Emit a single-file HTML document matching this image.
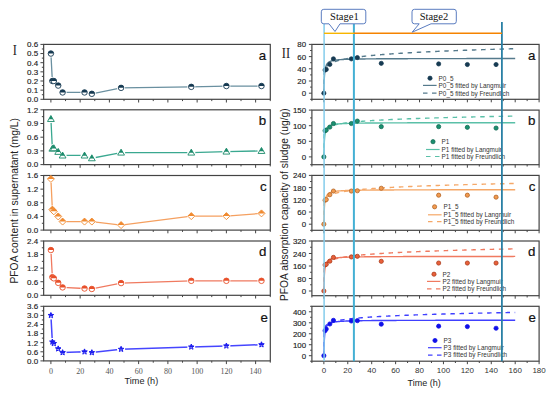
<!DOCTYPE html>
<html><head><meta charset="utf-8"><style>html,body{margin:0;padding:0;background:#fff;}svg{display:block;}</style></head>
<body><svg width="550" height="393" viewBox="0 0 550 393">
<rect width="550" height="393" fill="#fff"/>
<rect x="43.65" y="44.4" width="226.65" height="54.90" fill="none" stroke="#444444" stroke-width="1.2"/>
<line x1="40.449999999999996" y1="99.30" x2="43.65" y2="99.30" stroke="#444444" stroke-width="1"/>
<text x="38.15" y="102.10" text-anchor="end" font-size="8" fill="#222222" stroke="#222222" stroke-width="0.15" font-family='"Liberation Sans", sans-serif'>0.0</text>
<line x1="41.85" y1="94.72" x2="43.65" y2="94.72" stroke="#444444" stroke-width="1"/>
<line x1="40.449999999999996" y1="90.15" x2="43.65" y2="90.15" stroke="#444444" stroke-width="1"/>
<text x="38.15" y="92.95" text-anchor="end" font-size="8" fill="#222222" stroke="#222222" stroke-width="0.15" font-family='"Liberation Sans", sans-serif'>0.1</text>
<line x1="41.85" y1="85.57" x2="43.65" y2="85.57" stroke="#444444" stroke-width="1"/>
<line x1="40.449999999999996" y1="81.00" x2="43.65" y2="81.00" stroke="#444444" stroke-width="1"/>
<text x="38.15" y="83.80" text-anchor="end" font-size="8" fill="#222222" stroke="#222222" stroke-width="0.15" font-family='"Liberation Sans", sans-serif'>0.2</text>
<line x1="41.85" y1="76.42" x2="43.65" y2="76.42" stroke="#444444" stroke-width="1"/>
<line x1="40.449999999999996" y1="71.85" x2="43.65" y2="71.85" stroke="#444444" stroke-width="1"/>
<text x="38.15" y="74.65" text-anchor="end" font-size="8" fill="#222222" stroke="#222222" stroke-width="0.15" font-family='"Liberation Sans", sans-serif'>0.3</text>
<line x1="41.85" y1="67.28" x2="43.65" y2="67.28" stroke="#444444" stroke-width="1"/>
<line x1="40.449999999999996" y1="62.70" x2="43.65" y2="62.70" stroke="#444444" stroke-width="1"/>
<text x="38.15" y="65.50" text-anchor="end" font-size="8" fill="#222222" stroke="#222222" stroke-width="0.15" font-family='"Liberation Sans", sans-serif'>0.4</text>
<line x1="41.85" y1="58.12" x2="43.65" y2="58.12" stroke="#444444" stroke-width="1"/>
<line x1="40.449999999999996" y1="53.55" x2="43.65" y2="53.55" stroke="#444444" stroke-width="1"/>
<text x="38.15" y="56.35" text-anchor="end" font-size="8" fill="#222222" stroke="#222222" stroke-width="0.15" font-family='"Liberation Sans", sans-serif'>0.5</text>
<line x1="41.85" y1="48.97" x2="43.65" y2="48.97" stroke="#444444" stroke-width="1"/>
<line x1="40.449999999999996" y1="44.40" x2="43.65" y2="44.40" stroke="#444444" stroke-width="1"/>
<text x="38.15" y="47.20" text-anchor="end" font-size="8" fill="#222222" stroke="#222222" stroke-width="0.15" font-family='"Liberation Sans", sans-serif'>0.6</text>
<line x1="50.90" y1="99.3" x2="50.90" y2="102.5" stroke="#444444" stroke-width="1"/>
<line x1="65.52" y1="99.3" x2="65.52" y2="101.1" stroke="#444444" stroke-width="1"/>
<line x1="80.15" y1="99.3" x2="80.15" y2="102.5" stroke="#444444" stroke-width="1"/>
<line x1="94.77" y1="99.3" x2="94.77" y2="101.1" stroke="#444444" stroke-width="1"/>
<line x1="109.39" y1="99.3" x2="109.39" y2="102.5" stroke="#444444" stroke-width="1"/>
<line x1="124.01" y1="99.3" x2="124.01" y2="101.1" stroke="#444444" stroke-width="1"/>
<line x1="138.64" y1="99.3" x2="138.64" y2="102.5" stroke="#444444" stroke-width="1"/>
<line x1="153.26" y1="99.3" x2="153.26" y2="101.1" stroke="#444444" stroke-width="1"/>
<line x1="167.88" y1="99.3" x2="167.88" y2="102.5" stroke="#444444" stroke-width="1"/>
<line x1="182.51" y1="99.3" x2="182.51" y2="101.1" stroke="#444444" stroke-width="1"/>
<line x1="197.13" y1="99.3" x2="197.13" y2="102.5" stroke="#444444" stroke-width="1"/>
<line x1="211.75" y1="99.3" x2="211.75" y2="101.1" stroke="#444444" stroke-width="1"/>
<line x1="226.38" y1="99.3" x2="226.38" y2="102.5" stroke="#444444" stroke-width="1"/>
<line x1="241.00" y1="99.3" x2="241.00" y2="101.1" stroke="#444444" stroke-width="1"/>
<line x1="255.62" y1="99.3" x2="255.62" y2="102.5" stroke="#444444" stroke-width="1"/>
<line x1="270.25" y1="99.3" x2="270.25" y2="101.1" stroke="#444444" stroke-width="1"/>
<text x="262.5" y="59.70" text-anchor="middle" font-size="13.3" fill="#111" stroke="#111" stroke-width="0.2" font-family='"Liberation Sans", sans-serif'>a</text>
<polyline points="50.90,53.55 52.36,81.00 53.82,81.00 58.21,85.58 62.60,92.44 84.53,92.44 91.84,93.81 121.09,87.86 191.28,86.86 226.38,86.03 261.47,86.03" fill="none" stroke="#6a90a0" stroke-width="1.3"/>
<clipPath id="pc0"><rect x="44.25" y="45.0" width="225.45" height="53.70"/></clipPath><g clip-path="url(#pc0)">
<circle cx="50.90" cy="53.55" r="4.0" fill="#fff"/>
<circle cx="52.36" cy="81.00" r="4.0" fill="#fff"/>
<circle cx="53.82" cy="81.00" r="4.0" fill="#fff"/>
<circle cx="58.21" cy="85.58" r="4.0" fill="#fff"/>
<circle cx="62.60" cy="92.44" r="4.0" fill="#fff"/>
<circle cx="84.53" cy="92.44" r="4.0" fill="#fff"/>
<circle cx="91.84" cy="93.81" r="4.0" fill="#fff"/>
<circle cx="121.09" cy="87.86" r="4.0" fill="#fff"/>
<circle cx="191.28" cy="86.86" r="4.0" fill="#fff"/>
<circle cx="226.38" cy="86.03" r="4.0" fill="#fff"/>
<circle cx="261.47" cy="86.03" r="4.0" fill="#fff"/>
</g>
<circle cx="50.90" cy="53.55" r="2.75" fill="#fff" stroke="#163a52" stroke-width="0.9"/>
<path d="M48.15,53.55 A2.75,2.75 0 0 1 53.65,53.55 Z" fill="#163a52"/>
<circle cx="52.36" cy="81.00" r="2.75" fill="#fff" stroke="#163a52" stroke-width="0.9"/>
<path d="M49.61,81.00 A2.75,2.75 0 0 1 55.11,81.00 Z" fill="#163a52"/>
<circle cx="53.82" cy="81.00" r="2.75" fill="#fff" stroke="#163a52" stroke-width="0.9"/>
<path d="M51.07,81.00 A2.75,2.75 0 0 1 56.57,81.00 Z" fill="#163a52"/>
<circle cx="58.21" cy="85.58" r="2.75" fill="#fff" stroke="#163a52" stroke-width="0.9"/>
<path d="M55.46,85.58 A2.75,2.75 0 0 1 60.96,85.58 Z" fill="#163a52"/>
<circle cx="62.60" cy="92.44" r="2.75" fill="#fff" stroke="#163a52" stroke-width="0.9"/>
<path d="M59.85,92.44 A2.75,2.75 0 0 1 65.35,92.44 Z" fill="#163a52"/>
<circle cx="84.53" cy="92.44" r="2.75" fill="#fff" stroke="#163a52" stroke-width="0.9"/>
<path d="M81.78,92.44 A2.75,2.75 0 0 1 87.28,92.44 Z" fill="#163a52"/>
<circle cx="91.84" cy="93.81" r="2.75" fill="#fff" stroke="#163a52" stroke-width="0.9"/>
<path d="M89.09,93.81 A2.75,2.75 0 0 1 94.59,93.81 Z" fill="#163a52"/>
<circle cx="121.09" cy="87.86" r="2.75" fill="#fff" stroke="#163a52" stroke-width="0.9"/>
<path d="M118.34,87.86 A2.75,2.75 0 0 1 123.84,87.86 Z" fill="#163a52"/>
<circle cx="191.28" cy="86.86" r="2.75" fill="#fff" stroke="#163a52" stroke-width="0.9"/>
<path d="M188.53,86.86 A2.75,2.75 0 0 1 194.03,86.86 Z" fill="#163a52"/>
<circle cx="226.38" cy="86.03" r="2.75" fill="#fff" stroke="#163a52" stroke-width="0.9"/>
<path d="M223.63,86.03 A2.75,2.75 0 0 1 229.13,86.03 Z" fill="#163a52"/>
<circle cx="261.47" cy="86.03" r="2.75" fill="#fff" stroke="#163a52" stroke-width="0.9"/>
<path d="M258.72,86.03 A2.75,2.75 0 0 1 264.22,86.03 Z" fill="#163a52"/>
<rect x="43.65" y="109.8" width="226.65" height="54.80" fill="none" stroke="#444444" stroke-width="1.2"/>
<line x1="40.449999999999996" y1="164.60" x2="43.65" y2="164.60" stroke="#444444" stroke-width="1"/>
<text x="38.15" y="167.40" text-anchor="end" font-size="8" fill="#222222" stroke="#222222" stroke-width="0.15" font-family='"Liberation Sans", sans-serif'>0.0</text>
<line x1="41.85" y1="157.75" x2="43.65" y2="157.75" stroke="#444444" stroke-width="1"/>
<line x1="40.449999999999996" y1="150.90" x2="43.65" y2="150.90" stroke="#444444" stroke-width="1"/>
<text x="38.15" y="153.70" text-anchor="end" font-size="8" fill="#222222" stroke="#222222" stroke-width="0.15" font-family='"Liberation Sans", sans-serif'>0.3</text>
<line x1="41.85" y1="144.05" x2="43.65" y2="144.05" stroke="#444444" stroke-width="1"/>
<line x1="40.449999999999996" y1="137.20" x2="43.65" y2="137.20" stroke="#444444" stroke-width="1"/>
<text x="38.15" y="140.00" text-anchor="end" font-size="8" fill="#222222" stroke="#222222" stroke-width="0.15" font-family='"Liberation Sans", sans-serif'>0.6</text>
<line x1="41.85" y1="130.35" x2="43.65" y2="130.35" stroke="#444444" stroke-width="1"/>
<line x1="40.449999999999996" y1="123.50" x2="43.65" y2="123.50" stroke="#444444" stroke-width="1"/>
<text x="38.15" y="126.30" text-anchor="end" font-size="8" fill="#222222" stroke="#222222" stroke-width="0.15" font-family='"Liberation Sans", sans-serif'>0.9</text>
<line x1="41.85" y1="116.65" x2="43.65" y2="116.65" stroke="#444444" stroke-width="1"/>
<line x1="40.449999999999996" y1="109.80" x2="43.65" y2="109.80" stroke="#444444" stroke-width="1"/>
<text x="38.15" y="112.60" text-anchor="end" font-size="8" fill="#222222" stroke="#222222" stroke-width="0.15" font-family='"Liberation Sans", sans-serif'>1.2</text>
<line x1="50.90" y1="164.6" x2="50.90" y2="167.79999999999998" stroke="#444444" stroke-width="1"/>
<line x1="65.52" y1="164.6" x2="65.52" y2="166.4" stroke="#444444" stroke-width="1"/>
<line x1="80.15" y1="164.6" x2="80.15" y2="167.79999999999998" stroke="#444444" stroke-width="1"/>
<line x1="94.77" y1="164.6" x2="94.77" y2="166.4" stroke="#444444" stroke-width="1"/>
<line x1="109.39" y1="164.6" x2="109.39" y2="167.79999999999998" stroke="#444444" stroke-width="1"/>
<line x1="124.01" y1="164.6" x2="124.01" y2="166.4" stroke="#444444" stroke-width="1"/>
<line x1="138.64" y1="164.6" x2="138.64" y2="167.79999999999998" stroke="#444444" stroke-width="1"/>
<line x1="153.26" y1="164.6" x2="153.26" y2="166.4" stroke="#444444" stroke-width="1"/>
<line x1="167.88" y1="164.6" x2="167.88" y2="167.79999999999998" stroke="#444444" stroke-width="1"/>
<line x1="182.51" y1="164.6" x2="182.51" y2="166.4" stroke="#444444" stroke-width="1"/>
<line x1="197.13" y1="164.6" x2="197.13" y2="167.79999999999998" stroke="#444444" stroke-width="1"/>
<line x1="211.75" y1="164.6" x2="211.75" y2="166.4" stroke="#444444" stroke-width="1"/>
<line x1="226.38" y1="164.6" x2="226.38" y2="167.79999999999998" stroke="#444444" stroke-width="1"/>
<line x1="241.00" y1="164.6" x2="241.00" y2="166.4" stroke="#444444" stroke-width="1"/>
<line x1="255.62" y1="164.6" x2="255.62" y2="167.79999999999998" stroke="#444444" stroke-width="1"/>
<line x1="270.25" y1="164.6" x2="270.25" y2="166.4" stroke="#444444" stroke-width="1"/>
<text x="262.5" y="125.10" text-anchor="middle" font-size="13.3" fill="#111" stroke="#111" stroke-width="0.2" font-family='"Liberation Sans", sans-serif'>b</text>
<polyline points="50.90,118.93 52.36,148.62 53.82,148.16 58.21,151.81 62.60,155.47 84.53,155.47 91.84,158.21 121.09,152.54 191.28,152.54 226.38,151.54 261.47,150.90" fill="none" stroke="#3aa890" stroke-width="1.3"/>
<clipPath id="pc1"><rect x="44.25" y="110.39999999999999" width="225.45" height="53.60"/></clipPath><g clip-path="url(#pc1)">
<circle cx="50.90" cy="118.93" r="4.0" fill="#fff"/>
<circle cx="52.36" cy="148.62" r="4.0" fill="#fff"/>
<circle cx="53.82" cy="148.16" r="4.0" fill="#fff"/>
<circle cx="58.21" cy="151.81" r="4.0" fill="#fff"/>
<circle cx="62.60" cy="155.47" r="4.0" fill="#fff"/>
<circle cx="84.53" cy="155.47" r="4.0" fill="#fff"/>
<circle cx="91.84" cy="158.21" r="4.0" fill="#fff"/>
<circle cx="121.09" cy="152.54" r="4.0" fill="#fff"/>
<circle cx="191.28" cy="152.54" r="4.0" fill="#fff"/>
<circle cx="226.38" cy="151.54" r="4.0" fill="#fff"/>
<circle cx="261.47" cy="150.90" r="4.0" fill="#fff"/>
</g>
<path d="M50.90,115.53 L54.30,121.48 L47.50,121.48 Z" fill="#fff" stroke="#1a8a6a" stroke-width="0.9"/>
<path d="M50.90,115.53 L53.01,119.23 L48.79,119.23 Z" fill="#1a8a6a"/>
<path d="M52.36,145.22 L55.76,151.17 L48.96,151.17 Z" fill="#fff" stroke="#1a8a6a" stroke-width="0.9"/>
<path d="M52.36,145.22 L54.47,148.92 L50.25,148.92 Z" fill="#1a8a6a"/>
<path d="M53.82,144.76 L57.22,150.71 L50.42,150.71 Z" fill="#fff" stroke="#1a8a6a" stroke-width="0.9"/>
<path d="M53.82,144.76 L55.93,148.46 L51.72,148.46 Z" fill="#1a8a6a"/>
<path d="M58.21,148.41 L61.61,154.36 L54.81,154.36 Z" fill="#fff" stroke="#1a8a6a" stroke-width="0.9"/>
<path d="M58.21,148.41 L60.32,152.11 L56.10,152.11 Z" fill="#1a8a6a"/>
<path d="M62.60,152.07 L66.00,158.02 L59.20,158.02 Z" fill="#fff" stroke="#1a8a6a" stroke-width="0.9"/>
<path d="M62.60,152.07 L64.71,155.77 L60.49,155.77 Z" fill="#1a8a6a"/>
<path d="M84.53,152.07 L87.93,158.02 L81.13,158.02 Z" fill="#fff" stroke="#1a8a6a" stroke-width="0.9"/>
<path d="M84.53,152.07 L86.64,155.77 L82.42,155.77 Z" fill="#1a8a6a"/>
<path d="M91.84,154.81 L95.24,160.76 L88.44,160.76 Z" fill="#fff" stroke="#1a8a6a" stroke-width="0.9"/>
<path d="M91.84,154.81 L93.95,158.51 L89.74,158.51 Z" fill="#1a8a6a"/>
<path d="M121.09,149.14 L124.49,155.09 L117.69,155.09 Z" fill="#fff" stroke="#1a8a6a" stroke-width="0.9"/>
<path d="M121.09,149.14 L123.20,152.84 L118.98,152.84 Z" fill="#1a8a6a"/>
<path d="M191.28,149.14 L194.68,155.09 L187.88,155.09 Z" fill="#fff" stroke="#1a8a6a" stroke-width="0.9"/>
<path d="M191.28,149.14 L193.39,152.84 L189.17,152.84 Z" fill="#1a8a6a"/>
<path d="M226.38,148.14 L229.78,154.09 L222.98,154.09 Z" fill="#fff" stroke="#1a8a6a" stroke-width="0.9"/>
<path d="M226.38,148.14 L228.48,151.84 L224.27,151.84 Z" fill="#1a8a6a"/>
<path d="M261.47,147.50 L264.87,153.45 L258.07,153.45 Z" fill="#fff" stroke="#1a8a6a" stroke-width="0.9"/>
<path d="M261.47,147.50 L263.58,151.20 L259.36,151.20 Z" fill="#1a8a6a"/>
<rect x="43.65" y="175.5" width="226.65" height="54.60" fill="none" stroke="#444444" stroke-width="1.2"/>
<line x1="40.449999999999996" y1="230.10" x2="43.65" y2="230.10" stroke="#444444" stroke-width="1"/>
<text x="38.15" y="232.90" text-anchor="end" font-size="8" fill="#222222" stroke="#222222" stroke-width="0.15" font-family='"Liberation Sans", sans-serif'>0.0</text>
<line x1="41.85" y1="223.28" x2="43.65" y2="223.28" stroke="#444444" stroke-width="1"/>
<line x1="40.449999999999996" y1="216.45" x2="43.65" y2="216.45" stroke="#444444" stroke-width="1"/>
<text x="38.15" y="219.25" text-anchor="end" font-size="8" fill="#222222" stroke="#222222" stroke-width="0.15" font-family='"Liberation Sans", sans-serif'>0.4</text>
<line x1="41.85" y1="209.62" x2="43.65" y2="209.62" stroke="#444444" stroke-width="1"/>
<line x1="40.449999999999996" y1="202.80" x2="43.65" y2="202.80" stroke="#444444" stroke-width="1"/>
<text x="38.15" y="205.60" text-anchor="end" font-size="8" fill="#222222" stroke="#222222" stroke-width="0.15" font-family='"Liberation Sans", sans-serif'>0.8</text>
<line x1="41.85" y1="195.97" x2="43.65" y2="195.97" stroke="#444444" stroke-width="1"/>
<line x1="40.449999999999996" y1="189.15" x2="43.65" y2="189.15" stroke="#444444" stroke-width="1"/>
<text x="38.15" y="191.95" text-anchor="end" font-size="8" fill="#222222" stroke="#222222" stroke-width="0.15" font-family='"Liberation Sans", sans-serif'>1.2</text>
<line x1="41.85" y1="182.32" x2="43.65" y2="182.32" stroke="#444444" stroke-width="1"/>
<line x1="40.449999999999996" y1="175.50" x2="43.65" y2="175.50" stroke="#444444" stroke-width="1"/>
<text x="38.15" y="178.30" text-anchor="end" font-size="8" fill="#222222" stroke="#222222" stroke-width="0.15" font-family='"Liberation Sans", sans-serif'>1.6</text>
<line x1="50.90" y1="230.1" x2="50.90" y2="233.29999999999998" stroke="#444444" stroke-width="1"/>
<line x1="65.52" y1="230.1" x2="65.52" y2="231.9" stroke="#444444" stroke-width="1"/>
<line x1="80.15" y1="230.1" x2="80.15" y2="233.29999999999998" stroke="#444444" stroke-width="1"/>
<line x1="94.77" y1="230.1" x2="94.77" y2="231.9" stroke="#444444" stroke-width="1"/>
<line x1="109.39" y1="230.1" x2="109.39" y2="233.29999999999998" stroke="#444444" stroke-width="1"/>
<line x1="124.01" y1="230.1" x2="124.01" y2="231.9" stroke="#444444" stroke-width="1"/>
<line x1="138.64" y1="230.1" x2="138.64" y2="233.29999999999998" stroke="#444444" stroke-width="1"/>
<line x1="153.26" y1="230.1" x2="153.26" y2="231.9" stroke="#444444" stroke-width="1"/>
<line x1="167.88" y1="230.1" x2="167.88" y2="233.29999999999998" stroke="#444444" stroke-width="1"/>
<line x1="182.51" y1="230.1" x2="182.51" y2="231.9" stroke="#444444" stroke-width="1"/>
<line x1="197.13" y1="230.1" x2="197.13" y2="233.29999999999998" stroke="#444444" stroke-width="1"/>
<line x1="211.75" y1="230.1" x2="211.75" y2="231.9" stroke="#444444" stroke-width="1"/>
<line x1="226.38" y1="230.1" x2="226.38" y2="233.29999999999998" stroke="#444444" stroke-width="1"/>
<line x1="241.00" y1="230.1" x2="241.00" y2="231.9" stroke="#444444" stroke-width="1"/>
<line x1="255.62" y1="230.1" x2="255.62" y2="233.29999999999998" stroke="#444444" stroke-width="1"/>
<line x1="270.25" y1="230.1" x2="270.25" y2="231.9" stroke="#444444" stroke-width="1"/>
<text x="263.3" y="190.80" text-anchor="middle" font-size="13.3" fill="#111" stroke="#111" stroke-width="0.2" font-family='"Liberation Sans", sans-serif'>c</text>
<polyline points="50.90,178.91 52.36,209.62 53.82,211.33 58.21,216.45 62.60,221.57 84.53,221.57 91.84,221.57 121.09,225.08 191.28,216.11 226.38,216.11 261.47,213.38" fill="none" stroke="#f5a060" stroke-width="1.3"/>
<clipPath id="pc2"><rect x="44.25" y="176.1" width="225.45" height="53.40"/></clipPath><g clip-path="url(#pc2)">
<circle cx="50.90" cy="178.91" r="4.0" fill="#fff"/>
<circle cx="52.36" cy="209.62" r="4.0" fill="#fff"/>
<circle cx="53.82" cy="211.33" r="4.0" fill="#fff"/>
<circle cx="58.21" cy="216.45" r="4.0" fill="#fff"/>
<circle cx="62.60" cy="221.57" r="4.0" fill="#fff"/>
<circle cx="84.53" cy="221.57" r="4.0" fill="#fff"/>
<circle cx="91.84" cy="221.57" r="4.0" fill="#fff"/>
<circle cx="121.09" cy="225.08" r="4.0" fill="#fff"/>
<circle cx="191.28" cy="216.11" r="4.0" fill="#fff"/>
<circle cx="226.38" cy="216.11" r="4.0" fill="#fff"/>
<circle cx="261.47" cy="213.38" r="4.0" fill="#fff"/>
</g>
<path d="M50.90,175.41 L54.40,178.91 L50.90,182.41 L47.40,178.91 Z" fill="#fff" stroke="#f08a30" stroke-width="0.9"/>
<path d="M50.90,175.41 L54.40,178.91 L47.40,178.91 Z" fill="#f08a30"/>
<path d="M52.36,206.12 L55.86,209.62 L52.36,213.12 L48.86,209.62 Z" fill="#fff" stroke="#f08a30" stroke-width="0.9"/>
<path d="M52.36,206.12 L55.86,209.62 L48.86,209.62 Z" fill="#f08a30"/>
<path d="M53.82,207.83 L57.32,211.33 L53.82,214.83 L50.32,211.33 Z" fill="#fff" stroke="#f08a30" stroke-width="0.9"/>
<path d="M53.82,207.83 L57.32,211.33 L50.32,211.33 Z" fill="#f08a30"/>
<path d="M58.21,212.95 L61.71,216.45 L58.21,219.95 L54.71,216.45 Z" fill="#fff" stroke="#f08a30" stroke-width="0.9"/>
<path d="M58.21,212.95 L61.71,216.45 L54.71,216.45 Z" fill="#f08a30"/>
<path d="M62.60,218.07 L66.10,221.57 L62.60,225.07 L59.10,221.57 Z" fill="#fff" stroke="#f08a30" stroke-width="0.9"/>
<path d="M62.60,218.07 L66.10,221.57 L59.10,221.57 Z" fill="#f08a30"/>
<path d="M84.53,218.07 L88.03,221.57 L84.53,225.07 L81.03,221.57 Z" fill="#fff" stroke="#f08a30" stroke-width="0.9"/>
<path d="M84.53,218.07 L88.03,221.57 L81.03,221.57 Z" fill="#f08a30"/>
<path d="M91.84,218.07 L95.34,221.57 L91.84,225.07 L88.34,221.57 Z" fill="#fff" stroke="#f08a30" stroke-width="0.9"/>
<path d="M91.84,218.07 L95.34,221.57 L88.34,221.57 Z" fill="#f08a30"/>
<path d="M121.09,221.58 L124.59,225.08 L121.09,228.58 L117.59,225.08 Z" fill="#fff" stroke="#f08a30" stroke-width="0.9"/>
<path d="M121.09,221.58 L124.59,225.08 L117.59,225.08 Z" fill="#f08a30"/>
<path d="M191.28,212.61 L194.78,216.11 L191.28,219.61 L187.78,216.11 Z" fill="#fff" stroke="#f08a30" stroke-width="0.9"/>
<path d="M191.28,212.61 L194.78,216.11 L187.78,216.11 Z" fill="#f08a30"/>
<path d="M226.38,212.61 L229.88,216.11 L226.38,219.61 L222.88,216.11 Z" fill="#fff" stroke="#f08a30" stroke-width="0.9"/>
<path d="M226.38,212.61 L229.88,216.11 L222.88,216.11 Z" fill="#f08a30"/>
<path d="M261.47,209.88 L264.97,213.38 L261.47,216.88 L257.97,213.38 Z" fill="#fff" stroke="#f08a30" stroke-width="0.9"/>
<path d="M261.47,209.88 L264.97,213.38 L257.97,213.38 Z" fill="#f08a30"/>
<rect x="43.65" y="241.0" width="226.65" height="54.30" fill="none" stroke="#444444" stroke-width="1.2"/>
<line x1="40.449999999999996" y1="295.30" x2="43.65" y2="295.30" stroke="#444444" stroke-width="1"/>
<text x="38.15" y="298.10" text-anchor="end" font-size="8" fill="#222222" stroke="#222222" stroke-width="0.15" font-family='"Liberation Sans", sans-serif'>0.0</text>
<line x1="41.85" y1="288.51" x2="43.65" y2="288.51" stroke="#444444" stroke-width="1"/>
<line x1="40.449999999999996" y1="281.73" x2="43.65" y2="281.73" stroke="#444444" stroke-width="1"/>
<text x="38.15" y="284.53" text-anchor="end" font-size="8" fill="#222222" stroke="#222222" stroke-width="0.15" font-family='"Liberation Sans", sans-serif'>0.6</text>
<line x1="41.85" y1="274.94" x2="43.65" y2="274.94" stroke="#444444" stroke-width="1"/>
<line x1="40.449999999999996" y1="268.15" x2="43.65" y2="268.15" stroke="#444444" stroke-width="1"/>
<text x="38.15" y="270.95" text-anchor="end" font-size="8" fill="#222222" stroke="#222222" stroke-width="0.15" font-family='"Liberation Sans", sans-serif'>1.2</text>
<line x1="41.85" y1="261.36" x2="43.65" y2="261.36" stroke="#444444" stroke-width="1"/>
<line x1="40.449999999999996" y1="254.57" x2="43.65" y2="254.57" stroke="#444444" stroke-width="1"/>
<text x="38.15" y="257.38" text-anchor="end" font-size="8" fill="#222222" stroke="#222222" stroke-width="0.15" font-family='"Liberation Sans", sans-serif'>1.8</text>
<line x1="41.85" y1="247.79" x2="43.65" y2="247.79" stroke="#444444" stroke-width="1"/>
<line x1="40.449999999999996" y1="241.00" x2="43.65" y2="241.00" stroke="#444444" stroke-width="1"/>
<text x="38.15" y="243.80" text-anchor="end" font-size="8" fill="#222222" stroke="#222222" stroke-width="0.15" font-family='"Liberation Sans", sans-serif'>2.4</text>
<line x1="50.90" y1="295.3" x2="50.90" y2="298.5" stroke="#444444" stroke-width="1"/>
<line x1="65.52" y1="295.3" x2="65.52" y2="297.1" stroke="#444444" stroke-width="1"/>
<line x1="80.15" y1="295.3" x2="80.15" y2="298.5" stroke="#444444" stroke-width="1"/>
<line x1="94.77" y1="295.3" x2="94.77" y2="297.1" stroke="#444444" stroke-width="1"/>
<line x1="109.39" y1="295.3" x2="109.39" y2="298.5" stroke="#444444" stroke-width="1"/>
<line x1="124.01" y1="295.3" x2="124.01" y2="297.1" stroke="#444444" stroke-width="1"/>
<line x1="138.64" y1="295.3" x2="138.64" y2="298.5" stroke="#444444" stroke-width="1"/>
<line x1="153.26" y1="295.3" x2="153.26" y2="297.1" stroke="#444444" stroke-width="1"/>
<line x1="167.88" y1="295.3" x2="167.88" y2="298.5" stroke="#444444" stroke-width="1"/>
<line x1="182.51" y1="295.3" x2="182.51" y2="297.1" stroke="#444444" stroke-width="1"/>
<line x1="197.13" y1="295.3" x2="197.13" y2="298.5" stroke="#444444" stroke-width="1"/>
<line x1="211.75" y1="295.3" x2="211.75" y2="297.1" stroke="#444444" stroke-width="1"/>
<line x1="226.38" y1="295.3" x2="226.38" y2="298.5" stroke="#444444" stroke-width="1"/>
<line x1="241.00" y1="295.3" x2="241.00" y2="297.1" stroke="#444444" stroke-width="1"/>
<line x1="255.62" y1="295.3" x2="255.62" y2="298.5" stroke="#444444" stroke-width="1"/>
<line x1="270.25" y1="295.3" x2="270.25" y2="297.1" stroke="#444444" stroke-width="1"/>
<text x="262.8" y="256.30" text-anchor="middle" font-size="13.3" fill="#111" stroke="#111" stroke-width="0.2" font-family='"Liberation Sans", sans-serif'>d</text>
<polyline points="50.90,250.05 52.36,277.20 53.82,278.33 58.21,282.86 62.60,287.38 84.53,288.51 91.84,288.97 121.09,283.08 191.28,280.82 226.38,280.82 261.47,280.82" fill="none" stroke="#f07a60" stroke-width="1.3"/>
<clipPath id="pc3"><rect x="44.25" y="241.6" width="225.45" height="53.10"/></clipPath><g clip-path="url(#pc3)">
<circle cx="50.90" cy="250.05" r="4.0" fill="#fff"/>
<circle cx="52.36" cy="277.20" r="4.0" fill="#fff"/>
<circle cx="53.82" cy="278.33" r="4.0" fill="#fff"/>
<circle cx="58.21" cy="282.86" r="4.0" fill="#fff"/>
<circle cx="62.60" cy="287.38" r="4.0" fill="#fff"/>
<circle cx="84.53" cy="288.51" r="4.0" fill="#fff"/>
<circle cx="91.84" cy="288.97" r="4.0" fill="#fff"/>
<circle cx="121.09" cy="283.08" r="4.0" fill="#fff"/>
<circle cx="191.28" cy="280.82" r="4.0" fill="#fff"/>
<circle cx="226.38" cy="280.82" r="4.0" fill="#fff"/>
<circle cx="261.47" cy="280.82" r="4.0" fill="#fff"/>
</g>
<circle cx="50.90" cy="250.05" r="2.75" fill="#fff" stroke="#e8502a" stroke-width="0.9"/>
<path d="M48.15,250.05 A2.75,2.75 0 0 1 53.65,250.05 Z" fill="#e8502a"/>
<circle cx="52.36" cy="277.20" r="2.75" fill="#fff" stroke="#e8502a" stroke-width="0.9"/>
<path d="M49.61,277.20 A2.75,2.75 0 0 1 55.11,277.20 Z" fill="#e8502a"/>
<circle cx="53.82" cy="278.33" r="2.75" fill="#fff" stroke="#e8502a" stroke-width="0.9"/>
<path d="M51.07,278.33 A2.75,2.75 0 0 1 56.57,278.33 Z" fill="#e8502a"/>
<circle cx="58.21" cy="282.86" r="2.75" fill="#fff" stroke="#e8502a" stroke-width="0.9"/>
<path d="M55.46,282.86 A2.75,2.75 0 0 1 60.96,282.86 Z" fill="#e8502a"/>
<circle cx="62.60" cy="287.38" r="2.75" fill="#fff" stroke="#e8502a" stroke-width="0.9"/>
<path d="M59.85,287.38 A2.75,2.75 0 0 1 65.35,287.38 Z" fill="#e8502a"/>
<circle cx="84.53" cy="288.51" r="2.75" fill="#fff" stroke="#e8502a" stroke-width="0.9"/>
<path d="M81.78,288.51 A2.75,2.75 0 0 1 87.28,288.51 Z" fill="#e8502a"/>
<circle cx="91.84" cy="288.97" r="2.75" fill="#fff" stroke="#e8502a" stroke-width="0.9"/>
<path d="M89.09,288.97 A2.75,2.75 0 0 1 94.59,288.97 Z" fill="#e8502a"/>
<circle cx="121.09" cy="283.08" r="2.75" fill="#fff" stroke="#e8502a" stroke-width="0.9"/>
<path d="M118.34,283.08 A2.75,2.75 0 0 1 123.84,283.08 Z" fill="#e8502a"/>
<circle cx="191.28" cy="280.82" r="2.75" fill="#fff" stroke="#e8502a" stroke-width="0.9"/>
<path d="M188.53,280.82 A2.75,2.75 0 0 1 194.03,280.82 Z" fill="#e8502a"/>
<circle cx="226.38" cy="280.82" r="2.75" fill="#fff" stroke="#e8502a" stroke-width="0.9"/>
<path d="M223.63,280.82 A2.75,2.75 0 0 1 229.13,280.82 Z" fill="#e8502a"/>
<circle cx="261.47" cy="280.82" r="2.75" fill="#fff" stroke="#e8502a" stroke-width="0.9"/>
<path d="M258.72,280.82 A2.75,2.75 0 0 1 264.22,280.82 Z" fill="#e8502a"/>
<rect x="43.65" y="306.3" width="226.65" height="54.60" fill="none" stroke="#444444" stroke-width="1.2"/>
<line x1="40.449999999999996" y1="360.90" x2="43.65" y2="360.90" stroke="#444444" stroke-width="1"/>
<text x="38.15" y="363.70" text-anchor="end" font-size="8" fill="#222222" stroke="#222222" stroke-width="0.15" font-family='"Liberation Sans", sans-serif'>0.0</text>
<line x1="41.85" y1="356.35" x2="43.65" y2="356.35" stroke="#444444" stroke-width="1"/>
<line x1="40.449999999999996" y1="351.80" x2="43.65" y2="351.80" stroke="#444444" stroke-width="1"/>
<text x="38.15" y="354.60" text-anchor="end" font-size="8" fill="#222222" stroke="#222222" stroke-width="0.15" font-family='"Liberation Sans", sans-serif'>0.6</text>
<line x1="41.85" y1="347.25" x2="43.65" y2="347.25" stroke="#444444" stroke-width="1"/>
<line x1="40.449999999999996" y1="342.70" x2="43.65" y2="342.70" stroke="#444444" stroke-width="1"/>
<text x="38.15" y="345.50" text-anchor="end" font-size="8" fill="#222222" stroke="#222222" stroke-width="0.15" font-family='"Liberation Sans", sans-serif'>1.2</text>
<line x1="41.85" y1="338.15" x2="43.65" y2="338.15" stroke="#444444" stroke-width="1"/>
<line x1="40.449999999999996" y1="333.60" x2="43.65" y2="333.60" stroke="#444444" stroke-width="1"/>
<text x="38.15" y="336.40" text-anchor="end" font-size="8" fill="#222222" stroke="#222222" stroke-width="0.15" font-family='"Liberation Sans", sans-serif'>1.8</text>
<line x1="41.85" y1="329.05" x2="43.65" y2="329.05" stroke="#444444" stroke-width="1"/>
<line x1="40.449999999999996" y1="324.50" x2="43.65" y2="324.50" stroke="#444444" stroke-width="1"/>
<text x="38.15" y="327.30" text-anchor="end" font-size="8" fill="#222222" stroke="#222222" stroke-width="0.15" font-family='"Liberation Sans", sans-serif'>2.4</text>
<line x1="41.85" y1="319.95" x2="43.65" y2="319.95" stroke="#444444" stroke-width="1"/>
<line x1="40.449999999999996" y1="315.40" x2="43.65" y2="315.40" stroke="#444444" stroke-width="1"/>
<text x="38.15" y="318.20" text-anchor="end" font-size="8" fill="#222222" stroke="#222222" stroke-width="0.15" font-family='"Liberation Sans", sans-serif'>3.0</text>
<line x1="41.85" y1="310.85" x2="43.65" y2="310.85" stroke="#444444" stroke-width="1"/>
<line x1="40.449999999999996" y1="306.30" x2="43.65" y2="306.30" stroke="#444444" stroke-width="1"/>
<text x="38.15" y="309.10" text-anchor="end" font-size="8" fill="#222222" stroke="#222222" stroke-width="0.15" font-family='"Liberation Sans", sans-serif'>3.6</text>
<line x1="50.90" y1="360.9" x2="50.90" y2="364.09999999999997" stroke="#444444" stroke-width="1"/>
<line x1="65.52" y1="360.9" x2="65.52" y2="362.7" stroke="#444444" stroke-width="1"/>
<line x1="80.15" y1="360.9" x2="80.15" y2="364.09999999999997" stroke="#444444" stroke-width="1"/>
<line x1="94.77" y1="360.9" x2="94.77" y2="362.7" stroke="#444444" stroke-width="1"/>
<line x1="109.39" y1="360.9" x2="109.39" y2="364.09999999999997" stroke="#444444" stroke-width="1"/>
<line x1="124.01" y1="360.9" x2="124.01" y2="362.7" stroke="#444444" stroke-width="1"/>
<line x1="138.64" y1="360.9" x2="138.64" y2="364.09999999999997" stroke="#444444" stroke-width="1"/>
<line x1="153.26" y1="360.9" x2="153.26" y2="362.7" stroke="#444444" stroke-width="1"/>
<line x1="167.88" y1="360.9" x2="167.88" y2="364.09999999999997" stroke="#444444" stroke-width="1"/>
<line x1="182.51" y1="360.9" x2="182.51" y2="362.7" stroke="#444444" stroke-width="1"/>
<line x1="197.13" y1="360.9" x2="197.13" y2="364.09999999999997" stroke="#444444" stroke-width="1"/>
<line x1="211.75" y1="360.9" x2="211.75" y2="362.7" stroke="#444444" stroke-width="1"/>
<line x1="226.38" y1="360.9" x2="226.38" y2="364.09999999999997" stroke="#444444" stroke-width="1"/>
<line x1="241.00" y1="360.9" x2="241.00" y2="362.7" stroke="#444444" stroke-width="1"/>
<line x1="255.62" y1="360.9" x2="255.62" y2="364.09999999999997" stroke="#444444" stroke-width="1"/>
<line x1="270.25" y1="360.9" x2="270.25" y2="362.7" stroke="#444444" stroke-width="1"/>
<text x="264.1" y="321.60" text-anchor="middle" font-size="13.3" fill="#111" stroke="#111" stroke-width="0.2" font-family='"Liberation Sans", sans-serif'>e</text>
<polyline points="50.90,315.40 52.36,341.94 53.82,343.46 58.21,348.77 62.60,352.56 84.53,351.80 91.84,352.56 121.09,349.22 191.28,346.95 226.38,345.88 261.47,344.67" fill="none" stroke="#4646ff" stroke-width="1.5"/>
<clipPath id="pc4"><rect x="44.25" y="306.90000000000003" width="225.45" height="53.40"/></clipPath><g clip-path="url(#pc4)">
<circle cx="50.90" cy="315.40" r="4.0" fill="#fff"/>
<circle cx="52.36" cy="341.94" r="4.0" fill="#fff"/>
<circle cx="53.82" cy="343.46" r="4.0" fill="#fff"/>
<circle cx="58.21" cy="348.77" r="4.0" fill="#fff"/>
<circle cx="62.60" cy="352.56" r="4.0" fill="#fff"/>
<circle cx="84.53" cy="351.80" r="4.0" fill="#fff"/>
<circle cx="91.84" cy="352.56" r="4.0" fill="#fff"/>
<circle cx="121.09" cy="349.22" r="4.0" fill="#fff"/>
<circle cx="191.28" cy="346.95" r="4.0" fill="#fff"/>
<circle cx="226.38" cy="345.88" r="4.0" fill="#fff"/>
<circle cx="261.47" cy="344.67" r="4.0" fill="#fff"/>
</g>
<polygon points="50.90,312.50 51.66,314.35 53.66,314.50 52.14,315.80 52.60,317.75 50.90,316.70 49.20,317.75 49.66,315.80 48.14,314.50 50.14,314.35" fill="#fff" stroke="#1a1aee" stroke-width="1.0"/>
<clipPath id="sc0"><rect x="46.90" y="311.40" width="8" height="4.6"/></clipPath>
<polygon points="50.90,312.50 51.66,314.35 53.66,314.50 52.14,315.80 52.60,317.75 50.90,316.70 49.20,317.75 49.66,315.80 48.14,314.50 50.14,314.35" fill="#1a1aee" clip-path="url(#sc0)"/>
<polygon points="52.36,339.04 53.13,340.89 55.12,341.05 53.60,342.34 54.07,344.29 52.36,343.24 50.66,344.29 51.13,342.34 49.60,341.05 51.60,340.89" fill="#fff" stroke="#1a1aee" stroke-width="1.0"/>
<clipPath id="sc1"><rect x="48.36" y="337.94" width="8" height="4.6"/></clipPath>
<polygon points="52.36,339.04 53.13,340.89 55.12,341.05 53.60,342.34 54.07,344.29 52.36,343.24 50.66,344.29 51.13,342.34 49.60,341.05 51.60,340.89" fill="#1a1aee" clip-path="url(#sc1)"/>
<polygon points="53.82,340.56 54.59,342.41 56.58,342.56 55.06,343.86 55.53,345.80 53.82,344.76 52.12,345.80 52.59,343.86 51.07,342.56 53.06,342.41" fill="#fff" stroke="#1a1aee" stroke-width="1.0"/>
<clipPath id="sc2"><rect x="49.82" y="339.46" width="8" height="4.6"/></clipPath>
<polygon points="53.82,340.56 54.59,342.41 56.58,342.56 55.06,343.86 55.53,345.80 53.82,344.76 52.12,345.80 52.59,343.86 51.07,342.56 53.06,342.41" fill="#1a1aee" clip-path="url(#sc2)"/>
<polygon points="58.21,345.87 58.98,347.71 60.97,347.87 59.45,349.17 59.92,351.11 58.21,350.07 56.51,351.11 56.98,349.17 55.45,347.87 57.45,347.71" fill="#fff" stroke="#1a1aee" stroke-width="1.0"/>
<clipPath id="sc5"><rect x="54.21" y="344.77" width="8" height="4.6"/></clipPath>
<polygon points="58.21,345.87 58.98,347.71 60.97,347.87 59.45,349.17 59.92,351.11 58.21,350.07 56.51,351.11 56.98,349.17 55.45,347.87 57.45,347.71" fill="#1a1aee" clip-path="url(#sc5)"/>
<polygon points="62.60,349.66 63.36,351.51 65.36,351.66 63.83,352.96 64.30,354.90 62.60,353.86 60.89,354.90 61.36,352.96 59.84,351.66 61.83,351.51" fill="#fff" stroke="#1a1aee" stroke-width="1.0"/>
<clipPath id="sc8"><rect x="58.60" y="348.56" width="8" height="4.6"/></clipPath>
<polygon points="62.60,349.66 63.36,351.51 65.36,351.66 63.83,352.96 64.30,354.90 62.60,353.86 60.89,354.90 61.36,352.96 59.84,351.66 61.83,351.51" fill="#1a1aee" clip-path="url(#sc8)"/>
<polygon points="84.53,348.90 85.30,350.75 87.29,350.90 85.77,352.20 86.24,354.15 84.53,353.10 82.83,354.15 83.30,352.20 81.77,350.90 83.77,350.75" fill="#fff" stroke="#1a1aee" stroke-width="1.0"/>
<clipPath id="sc23"><rect x="80.53" y="347.80" width="8" height="4.6"/></clipPath>
<polygon points="84.53,348.90 85.30,350.75 87.29,350.90 85.77,352.20 86.24,354.15 84.53,353.10 82.83,354.15 83.30,352.20 81.77,350.90 83.77,350.75" fill="#1a1aee" clip-path="url(#sc23)"/>
<polygon points="91.84,349.66 92.61,351.51 94.60,351.66 93.08,352.96 93.55,354.90 91.84,353.86 90.14,354.90 90.61,352.96 89.09,351.66 91.08,351.51" fill="#fff" stroke="#1a1aee" stroke-width="1.0"/>
<clipPath id="sc28"><rect x="87.84" y="348.56" width="8" height="4.6"/></clipPath>
<polygon points="91.84,349.66 92.61,351.51 94.60,351.66 93.08,352.96 93.55,354.90 91.84,353.86 90.14,354.90 90.61,352.96 89.09,351.66 91.08,351.51" fill="#1a1aee" clip-path="url(#sc28)"/>
<polygon points="121.09,346.32 121.85,348.17 123.85,348.33 122.33,349.62 122.79,351.57 121.09,350.52 119.39,351.57 119.85,349.62 118.33,348.33 120.33,348.17" fill="#fff" stroke="#1a1aee" stroke-width="1.0"/>
<clipPath id="sc48"><rect x="117.09" y="345.22" width="8" height="4.6"/></clipPath>
<polygon points="121.09,346.32 121.85,348.17 123.85,348.33 122.33,349.62 122.79,351.57 121.09,350.52 119.39,351.57 119.85,349.62 118.33,348.33 120.33,348.17" fill="#1a1aee" clip-path="url(#sc48)"/>
<polygon points="191.28,344.05 192.04,345.89 194.04,346.05 192.52,347.35 192.99,349.29 191.28,348.25 189.58,349.29 190.04,347.35 188.52,346.05 190.52,345.89" fill="#fff" stroke="#1a1aee" stroke-width="1.0"/>
<clipPath id="sc96"><rect x="187.28" y="342.95" width="8" height="4.6"/></clipPath>
<polygon points="191.28,344.05 192.04,345.89 194.04,346.05 192.52,347.35 192.99,349.29 191.28,348.25 189.58,349.29 190.04,347.35 188.52,346.05 190.52,345.89" fill="#1a1aee" clip-path="url(#sc96)"/>
<polygon points="226.38,342.99 227.14,344.83 229.13,344.99 227.61,346.29 228.08,348.23 226.38,347.19 224.67,348.23 225.14,346.29 223.62,344.99 225.61,344.83" fill="#fff" stroke="#1a1aee" stroke-width="1.0"/>
<clipPath id="sc120"><rect x="222.38" y="341.88" width="8" height="4.6"/></clipPath>
<polygon points="226.38,342.99 227.14,344.83 229.13,344.99 227.61,346.29 228.08,348.23 226.38,347.19 224.67,348.23 225.14,346.29 223.62,344.99 225.61,344.83" fill="#1a1aee" clip-path="url(#sc120)"/>
<polygon points="261.47,341.77 262.24,343.62 264.23,343.78 262.71,345.07 263.18,347.02 261.47,345.97 259.77,347.02 260.23,345.07 258.71,343.78 260.71,343.62" fill="#fff" stroke="#1a1aee" stroke-width="1.0"/>
<clipPath id="sc144"><rect x="257.47" y="340.67" width="8" height="4.6"/></clipPath>
<polygon points="261.47,341.77 262.24,343.62 264.23,343.78 262.71,345.07 263.18,347.02 261.47,345.97 259.77,347.02 260.23,345.07 258.71,343.78 260.71,343.62" fill="#1a1aee" clip-path="url(#sc144)"/>
<text x="50.90" y="374.2" text-anchor="middle" font-size="8" fill="#555" font-family='"Liberation Serif", serif'>0</text>
<text x="80.15" y="374.2" text-anchor="middle" font-size="8" fill="#555" font-family='"Liberation Serif", serif'>20</text>
<text x="109.39" y="374.2" text-anchor="middle" font-size="8" fill="#555" font-family='"Liberation Serif", serif'>40</text>
<text x="138.64" y="374.2" text-anchor="middle" font-size="8" fill="#555" font-family='"Liberation Serif", serif'>60</text>
<text x="167.88" y="374.2" text-anchor="middle" font-size="8" fill="#555" font-family='"Liberation Serif", serif'>80</text>
<text x="197.13" y="374.2" text-anchor="middle" font-size="8" fill="#555" font-family='"Liberation Serif", serif'>100</text>
<text x="226.38" y="374.2" text-anchor="middle" font-size="8" fill="#555" font-family='"Liberation Serif", serif'>120</text>
<text x="255.62" y="374.2" text-anchor="middle" font-size="8" fill="#555" font-family='"Liberation Serif", serif'>140</text>
<text x="141.4" y="384.4" text-anchor="middle" font-size="9.8" textLength="33.6" lengthAdjust="spacingAndGlyphs" fill="#222" font-family='"Liberation Sans", sans-serif'>Time (h)</text>
<text transform="translate(17.8,200.8) rotate(-90)" text-anchor="middle" font-size="10.35" fill="#222" font-family='"Liberation Sans", sans-serif'>PFOA content in supernatant (mg/L)</text>
<text transform="translate(14.8,54.8) scale(0.8,1)" text-anchor="middle" font-size="15.5" fill="#222" font-family='"Liberation Serif", serif'>I</text>
<rect x="311.9" y="44.4" width="227.20000000000005" height="54.90" fill="none" stroke="#444444" stroke-width="1.2"/>
<line x1="310.09999999999997" y1="99.30" x2="311.9" y2="99.30" stroke="#444444" stroke-width="1"/>
<line x1="308.9" y1="93.20" x2="311.9" y2="93.20" stroke="#444444" stroke-width="1"/>
<text x="306.09999999999997" y="96.20" text-anchor="end" font-size="7.9" fill="#222222" stroke="#222222" stroke-width="0.15" font-family='"Liberation Sans", sans-serif'>0</text>
<line x1="310.09999999999997" y1="87.10" x2="311.9" y2="87.10" stroke="#444444" stroke-width="1"/>
<line x1="308.9" y1="81.00" x2="311.9" y2="81.00" stroke="#444444" stroke-width="1"/>
<text x="306.09999999999997" y="84.00" text-anchor="end" font-size="7.9" fill="#222222" stroke="#222222" stroke-width="0.15" font-family='"Liberation Sans", sans-serif'>20</text>
<line x1="310.09999999999997" y1="74.90" x2="311.9" y2="74.90" stroke="#444444" stroke-width="1"/>
<line x1="308.9" y1="68.80" x2="311.9" y2="68.80" stroke="#444444" stroke-width="1"/>
<text x="306.09999999999997" y="71.80" text-anchor="end" font-size="7.9" fill="#222222" stroke="#222222" stroke-width="0.15" font-family='"Liberation Sans", sans-serif'>40</text>
<line x1="310.09999999999997" y1="62.70" x2="311.9" y2="62.70" stroke="#444444" stroke-width="1"/>
<line x1="308.9" y1="56.60" x2="311.9" y2="56.60" stroke="#444444" stroke-width="1"/>
<text x="306.09999999999997" y="59.60" text-anchor="end" font-size="7.9" fill="#222222" stroke="#222222" stroke-width="0.15" font-family='"Liberation Sans", sans-serif'>60</text>
<line x1="310.09999999999997" y1="50.50" x2="311.9" y2="50.50" stroke="#444444" stroke-width="1"/>
<line x1="308.9" y1="44.40" x2="311.9" y2="44.40" stroke="#444444" stroke-width="1"/>
<text x="306.09999999999997" y="47.40" text-anchor="end" font-size="7.9" fill="#222222" stroke="#222222" stroke-width="0.15" font-family='"Liberation Sans", sans-serif'>80</text>
<line x1="311.90" y1="99.30" x2="311.90" y2="101.10" stroke="#444444" stroke-width="1"/>
<line x1="323.86" y1="99.30" x2="323.86" y2="102.30" stroke="#444444" stroke-width="1"/>
<line x1="335.82" y1="99.30" x2="335.82" y2="101.10" stroke="#444444" stroke-width="1"/>
<line x1="347.78" y1="99.30" x2="347.78" y2="102.30" stroke="#444444" stroke-width="1"/>
<line x1="359.73" y1="99.30" x2="359.73" y2="101.10" stroke="#444444" stroke-width="1"/>
<line x1="371.69" y1="99.30" x2="371.69" y2="102.30" stroke="#444444" stroke-width="1"/>
<line x1="383.65" y1="99.30" x2="383.65" y2="101.10" stroke="#444444" stroke-width="1"/>
<line x1="395.61" y1="99.30" x2="395.61" y2="102.30" stroke="#444444" stroke-width="1"/>
<line x1="407.57" y1="99.30" x2="407.57" y2="101.10" stroke="#444444" stroke-width="1"/>
<line x1="419.52" y1="99.30" x2="419.52" y2="102.30" stroke="#444444" stroke-width="1"/>
<line x1="431.48" y1="99.30" x2="431.48" y2="101.10" stroke="#444444" stroke-width="1"/>
<line x1="443.44" y1="99.30" x2="443.44" y2="102.30" stroke="#444444" stroke-width="1"/>
<line x1="455.40" y1="99.30" x2="455.40" y2="101.10" stroke="#444444" stroke-width="1"/>
<line x1="467.36" y1="99.30" x2="467.36" y2="102.30" stroke="#444444" stroke-width="1"/>
<line x1="479.31" y1="99.30" x2="479.31" y2="101.10" stroke="#444444" stroke-width="1"/>
<line x1="491.27" y1="99.30" x2="491.27" y2="102.30" stroke="#444444" stroke-width="1"/>
<line x1="503.23" y1="99.30" x2="503.23" y2="101.10" stroke="#444444" stroke-width="1"/>
<line x1="515.19" y1="99.30" x2="515.19" y2="102.30" stroke="#444444" stroke-width="1"/>
<line x1="527.15" y1="99.30" x2="527.15" y2="101.10" stroke="#444444" stroke-width="1"/>
<line x1="539.10" y1="99.30" x2="539.10" y2="102.30" stroke="#444444" stroke-width="1"/>
<text x="531.6" y="59.70" text-anchor="middle" font-size="13.3" fill="#111" stroke="#111" stroke-width="0.2" font-family='"Liberation Sans", sans-serif'>a</text>
<polyline points="323.86,93.20 323.92,76.30 323.98,74.83 324.04,73.91 324.10,73.24 324.16,72.69 324.22,72.24 324.28,71.85 324.34,71.50 324.40,71.20 324.46,70.92 324.52,70.66 324.58,70.42 324.64,70.20 324.70,70.00 324.76,69.80 324.82,69.62 324.88,69.45 324.94,69.29 325.00,69.13 325.06,68.98 325.12,68.84 325.18,68.70 325.24,68.57 325.29,68.45 325.35,68.33 325.41,68.21 325.47,68.09 325.53,67.99 325.59,67.88 325.65,67.78 325.71,67.68 325.77,67.58 325.83,67.48 325.89,67.39 325.95,67.30 326.01,67.21 326.07,67.13 326.13,67.04 326.19,66.96 326.25,66.88 326.31,66.80 326.37,66.73 326.43,66.65 326.49,66.58 326.55,66.51 326.61,66.44 326.67,66.37 326.73,66.30 326.79,66.23 326.85,66.17 326.91,66.10 326.97,66.04 327.03,65.98 327.09,65.92 327.15,65.86 327.21,65.80 327.27,65.74 327.33,65.68 327.39,65.63 327.45,65.57 327.51,65.52 327.57,65.46 327.63,65.41 327.69,65.36 327.75,65.30 327.81,65.25 327.87,65.20 327.93,65.15 327.99,65.10 328.05,65.05 328.11,65.01 328.16,64.96 328.22,64.91 328.28,64.87 328.34,64.82 328.40,64.78 328.46,64.73 328.52,64.69 328.58,64.64 328.64,64.60 328.70,64.56 328.76,64.52 328.82,64.47 328.88,64.43 328.94,64.39 329.00,64.35 329.06,64.31 329.12,64.27 329.18,64.23 329.24,64.19 329.30,64.15 329.36,64.12 329.42,64.08 329.48,64.04 329.54,64.00 329.60,63.97 329.66,63.93 329.72,63.89 329.78,63.86 329.84,63.82 329.90,63.79 329.96,63.75 330.02,63.72 330.08,63.69 330.14,63.65 330.20,63.62 330.26,63.58 330.32,63.55 330.38,63.52 330.44,63.49 330.50,63.45 330.56,63.42 330.62,63.39 330.68,63.36 330.74,63.33 330.80,63.30 330.86,63.27 330.92,63.23 330.98,63.20 331.03,63.17 331.09,63.14 331.15,63.11 331.21,63.08 331.27,63.06 331.33,63.03 331.39,63.00 331.45,62.97 331.51,62.94 331.57,62.91 331.63,62.88 331.69,62.86 331.75,62.83 331.81,62.80 331.87,62.77 331.93,62.75 331.99,62.72 332.05,62.69 332.11,62.67 332.17,62.64 332.23,62.61 332.29,62.59 332.35,62.56 332.41,62.54 332.47,62.51 332.53,62.48 332.59,62.46 332.65,62.43 332.71,62.41 332.77,62.38 332.83,62.36 332.89,62.33 332.95,62.31 333.01,62.29 333.07,62.26 333.13,62.24 333.19,62.21 333.25,62.19 333.31,62.17 333.37,62.14 333.43,62.12 333.49,62.10 333.55,62.07 333.61,62.05 333.67,62.03 333.73,62.00 333.79,61.98 333.84,61.96 333.90,61.94 333.96,61.91 334.02,61.89 334.08,61.87 334.14,61.85 334.20,61.83 334.26,61.80 334.32,61.78 334.38,61.76 334.44,61.74 334.50,61.72 334.56,61.70 334.62,61.68 334.68,61.66 334.74,61.64 334.80,61.61 334.86,61.59 334.92,61.57 334.98,61.55 335.04,61.53 335.10,61.51 335.16,61.49 335.22,61.47 335.28,61.45 335.34,61.43 335.40,61.41 335.46,61.39 335.52,61.37 335.58,61.35 335.64,61.33 335.70,61.31 335.76,61.29 335.82,61.28 336.42,61.09 337.01,60.91 337.61,60.74 338.21,60.57 338.81,60.41 339.41,60.25 340.00,60.11 340.60,59.96 341.20,59.82 341.80,59.68 342.39,59.55 342.99,59.42 343.59,59.30 344.19,59.18 344.79,59.06 345.38,58.94 345.98,58.83 346.58,58.72 347.18,58.61 347.78,58.51 348.37,58.40 348.97,58.30 349.57,58.20 350.17,58.11 350.77,58.01 351.36,57.92 351.96,57.83 352.56,57.74 353.16,57.65 353.75,57.57 354.35,57.48 354.95,57.40 355.55,57.32 356.15,57.23 356.74,57.16 357.34,57.08 357.94,57.00 358.54,56.92 359.14,56.85 359.73,56.78 360.33,56.70 360.93,56.63 361.53,56.56 362.13,56.49 362.72,56.43 363.32,56.36 363.92,56.29 364.52,56.23 365.12,56.16 365.71,56.10 366.31,56.03 366.91,55.97 367.51,55.91 368.10,55.85 368.70,55.79 369.30,55.73 369.90,55.67 370.50,55.61 371.09,55.55 371.69,55.50 372.29,55.44 372.89,55.39 373.49,55.33 374.08,55.28 374.68,55.22 375.28,55.17 375.88,55.12 376.48,55.06 377.07,55.01 377.67,54.96 378.27,54.91 378.87,54.86 379.46,54.81 380.06,54.76 380.66,54.71 381.26,54.66 381.86,54.62 382.45,54.57 383.05,54.52 383.65,54.47 384.25,54.43 384.85,54.38 385.44,54.34 386.04,54.29 386.64,54.25 387.24,54.20 387.84,54.16 388.43,54.12 389.03,54.07 389.63,54.03 390.23,53.99 390.82,53.94 391.42,53.90 392.02,53.86 392.62,53.82 393.22,53.78 393.81,53.74 394.41,53.70 395.01,53.66 395.61,53.62 396.21,53.58 396.80,53.54 397.40,53.50 398.00,53.46 398.60,53.42 399.20,53.39 399.79,53.35 400.39,53.31 400.99,53.27 401.59,53.24 402.18,53.20 402.78,53.16 403.38,53.13 403.98,53.09 404.58,53.05 405.17,53.02 405.77,52.98 406.37,52.95 406.97,52.91 407.57,52.88 408.16,52.84 408.76,52.81 409.36,52.78 409.96,52.74 410.56,52.71 411.15,52.68 411.75,52.64 412.35,52.61 412.95,52.58 413.55,52.54 414.14,52.51 414.74,52.48 415.34,52.45 415.94,52.42 416.53,52.38 417.13,52.35 417.73,52.32 418.33,52.29 418.93,52.26 419.52,52.23 420.12,52.20 420.72,52.17 421.32,52.14 421.92,52.11 422.51,52.08 423.11,52.05 423.71,52.02 424.31,51.99 424.91,51.96 425.50,51.93 426.10,51.90 426.70,51.87 427.30,51.84 427.89,51.81 428.49,51.78 429.09,51.76 429.69,51.73 430.29,51.70 430.88,51.67 431.48,51.64 432.08,51.62 432.68,51.59 433.28,51.56 433.87,51.53 434.47,51.51 435.07,51.48 435.67,51.45 436.27,51.43 436.86,51.40 437.46,51.37 438.06,51.35 438.66,51.32 439.25,51.30 439.85,51.27 440.45,51.24 441.05,51.22 441.65,51.19 442.24,51.17 442.84,51.14 443.44,51.12 444.04,51.09 444.64,51.07 445.23,51.04 445.83,51.02 446.43,50.99 447.03,50.97 447.63,50.94 448.22,50.92 448.82,50.89 449.42,50.87 450.02,50.84 450.61,50.82 451.21,50.80 451.81,50.77 452.41,50.75 453.01,50.73 453.60,50.70 454.20,50.68 454.80,50.65 455.40,50.63 456.00,50.61 456.59,50.59 457.19,50.56 457.79,50.54 458.39,50.52 458.99,50.49 459.58,50.47 460.18,50.45 460.78,50.43 461.38,50.40 461.97,50.38 462.57,50.36 463.17,50.34 463.77,50.32 464.37,50.29 464.96,50.27 465.56,50.25 466.16,50.23 466.76,50.21 467.36,50.18 467.95,50.16 468.55,50.14 469.15,50.12 469.75,50.10 470.35,50.08 470.94,50.06 471.54,50.04 472.14,50.02 472.74,49.99 473.34,49.97 473.93,49.95 474.53,49.93 475.13,49.91 475.73,49.89 476.32,49.87 476.92,49.85 477.52,49.83 478.12,49.81 478.72,49.79 479.31,49.77 479.91,49.75 480.51,49.73 481.11,49.71 481.71,49.69 482.30,49.67 482.90,49.65 483.50,49.63 484.10,49.61 484.70,49.59 485.29,49.57 485.89,49.55 486.49,49.53 487.09,49.51 487.68,49.50 488.28,49.48 488.88,49.46 489.48,49.44 490.08,49.42 490.67,49.40 491.27,49.38 491.87,49.36 492.47,49.34 493.07,49.33 493.66,49.31 494.26,49.29 494.86,49.27 495.46,49.25 496.06,49.23 496.65,49.22 497.25,49.20 497.85,49.18 498.45,49.16 499.04,49.14 499.64,49.12 500.24,49.11 500.84,49.09 501.44,49.07 502.03,49.05 502.63,49.04 503.23,49.02 503.83,49.00 504.43,48.98 505.02,48.96 505.62,48.95 506.22,48.93 506.82,48.91 507.42,48.89 508.01,48.88 508.61,48.86 509.21,48.84 509.81,48.83 510.40,48.81 511.00,48.79 511.60,48.77 512.20,48.76 512.80,48.74 513.39,48.72 513.99,48.71 514.59,48.69 515.19,48.67" fill="none" stroke="#557a8c" stroke-width="1.4" stroke-dasharray="4.5,4.7"/>
<polyline points="323.86,93.20 323.92,90.04 323.98,87.41 324.04,85.18 324.10,83.27 324.16,81.61 324.22,80.16 324.28,78.88 324.34,77.75 324.40,76.73 324.46,75.81 324.52,74.99 324.58,74.23 324.64,73.55 324.70,72.92 324.76,72.34 324.82,71.80 324.88,71.31 324.94,70.85 325.00,70.42 325.06,70.02 325.12,69.65 325.18,69.30 325.24,68.97 325.29,68.66 325.35,68.36 325.41,68.09 325.47,67.83 325.53,67.58 325.59,67.35 325.65,67.12 325.71,66.91 325.77,66.71 325.83,66.52 325.89,66.33 325.95,66.16 326.01,65.99 326.07,65.83 326.13,65.67 326.19,65.53 326.25,65.38 326.31,65.25 326.37,65.12 326.43,64.99 326.49,64.87 326.55,64.75 326.61,64.64 326.67,64.53 326.73,64.42 326.79,64.32 326.85,64.22 326.91,64.13 326.97,64.04 327.03,63.95 327.09,63.86 327.15,63.78 327.21,63.70 327.27,63.62 327.33,63.54 327.39,63.47 327.45,63.40 327.51,63.33 327.57,63.26 327.63,63.19 327.69,63.13 327.75,63.07 327.81,63.01 327.87,62.95 327.93,62.89 327.99,62.83 328.05,62.78 328.11,62.72 328.16,62.67 328.22,62.62 328.28,62.57 328.34,62.52 328.40,62.47 328.46,62.43 328.52,62.38 328.58,62.34 328.64,62.29 328.70,62.25 328.76,62.21 328.82,62.17 328.88,62.13 328.94,62.09 329.00,62.05 329.06,62.01 329.12,61.98 329.18,61.94 329.24,61.91 329.30,61.87 329.36,61.84 329.42,61.81 329.48,61.77 329.54,61.74 329.60,61.71 329.66,61.68 329.72,61.65 329.78,61.62 329.84,61.59 329.90,61.56 329.96,61.53 330.02,61.51 330.08,61.48 330.14,61.45 330.20,61.43 330.26,61.40 330.32,61.38 330.38,61.35 330.44,61.33 330.50,61.30 330.56,61.28 330.62,61.26 330.68,61.23 330.74,61.21 330.80,61.19 330.86,61.17 330.92,61.15 330.98,61.13 331.03,61.10 331.09,61.08 331.15,61.06 331.21,61.04 331.27,61.02 331.33,61.01 331.39,60.99 331.45,60.97 331.51,60.95 331.57,60.93 331.63,60.91 331.69,60.90 331.75,60.88 331.81,60.86 331.87,60.84 331.93,60.83 331.99,60.81 332.05,60.80 332.11,60.78 332.17,60.76 332.23,60.75 332.29,60.73 332.35,60.72 332.41,60.70 332.47,60.69 332.53,60.67 332.59,60.66 332.65,60.64 332.71,60.63 332.77,60.62 332.83,60.60 332.89,60.59 332.95,60.58 333.01,60.56 333.07,60.55 333.13,60.54 333.19,60.52 333.25,60.51 333.31,60.50 333.37,60.49 333.43,60.48 333.49,60.46 333.55,60.45 333.61,60.44 333.67,60.43 333.73,60.42 333.79,60.41 333.84,60.39 333.90,60.38 333.96,60.37 334.02,60.36 334.08,60.35 334.14,60.34 334.20,60.33 334.26,60.32 334.32,60.31 334.38,60.30 334.44,60.29 334.50,60.28 334.56,60.27 334.62,60.26 334.68,60.25 334.74,60.24 334.80,60.23 334.86,60.22 334.92,60.21 334.98,60.20 335.04,60.19 335.10,60.19 335.16,60.18 335.22,60.17 335.28,60.16 335.34,60.15 335.40,60.14 335.46,60.13 335.52,60.13 335.58,60.12 335.64,60.11 335.70,60.10 335.76,60.09 335.82,60.09 336.42,60.01 337.01,59.94 337.61,59.88 338.21,59.82 338.81,59.77 339.41,59.72 340.00,59.67 340.60,59.63 341.20,59.59 341.80,59.55 342.39,59.52 342.99,59.48 343.59,59.45 344.19,59.42 344.79,59.40 345.38,59.37 345.98,59.34 346.58,59.32 347.18,59.30 347.78,59.28 348.37,59.26 348.97,59.24 349.57,59.22 350.17,59.20 350.77,59.19 351.36,59.17 351.96,59.15 352.56,59.14 353.16,59.13 353.75,59.11 354.35,59.10 354.95,59.09 355.55,59.07 356.15,59.06 356.74,59.05 357.34,59.04 357.94,59.03 358.54,59.02 359.14,59.01 359.73,59.00 360.33,58.99 360.93,58.98 361.53,58.97 362.13,58.96 362.72,58.96 363.32,58.95 363.92,58.94 364.52,58.93 365.12,58.93 365.71,58.92 366.31,58.91 366.91,58.91 367.51,58.90 368.10,58.89 368.70,58.89 369.30,58.88 369.90,58.88 370.50,58.87 371.09,58.86 371.69,58.86 372.29,58.85 372.89,58.85 373.49,58.84 374.08,58.84 374.68,58.83 375.28,58.83 375.88,58.83 376.48,58.82 377.07,58.82 377.67,58.81 378.27,58.81 378.87,58.80 379.46,58.80 380.06,58.80 380.66,58.79 381.26,58.79 381.86,58.78 382.45,58.78 383.05,58.78 383.65,58.77 384.25,58.77 384.85,58.77 385.44,58.76 386.04,58.76 386.64,58.76 387.24,58.75 387.84,58.75 388.43,58.75 389.03,58.75 389.63,58.74 390.23,58.74 390.82,58.74 391.42,58.73 392.02,58.73 392.62,58.73 393.22,58.73 393.81,58.72 394.41,58.72 395.01,58.72 395.61,58.72 396.21,58.71 396.80,58.71 397.40,58.71 398.00,58.71 398.60,58.71 399.20,58.70 399.79,58.70 400.39,58.70 400.99,58.70 401.59,58.70 402.18,58.69 402.78,58.69 403.38,58.69 403.98,58.69 404.58,58.69 405.17,58.68 405.77,58.68 406.37,58.68 406.97,58.68 407.57,58.68 408.16,58.67 408.76,58.67 409.36,58.67 409.96,58.67 410.56,58.67 411.15,58.67 411.75,58.66 412.35,58.66 412.95,58.66 413.55,58.66 414.14,58.66 414.74,58.66 415.34,58.66 415.94,58.65 416.53,58.65 417.13,58.65 417.73,58.65 418.33,58.65 418.93,58.65 419.52,58.65 420.12,58.64 420.72,58.64 421.32,58.64 421.92,58.64 422.51,58.64 423.11,58.64 423.71,58.64 424.31,58.64 424.91,58.63 425.50,58.63 426.10,58.63 426.70,58.63 427.30,58.63 427.89,58.63 428.49,58.63 429.09,58.63 429.69,58.63 430.29,58.62 430.88,58.62 431.48,58.62 432.08,58.62 432.68,58.62 433.28,58.62 433.87,58.62 434.47,58.62 435.07,58.62 435.67,58.61 436.27,58.61 436.86,58.61 437.46,58.61 438.06,58.61 438.66,58.61 439.25,58.61 439.85,58.61 440.45,58.61 441.05,58.61 441.65,58.61 442.24,58.60 442.84,58.60 443.44,58.60 444.04,58.60 444.64,58.60 445.23,58.60 445.83,58.60 446.43,58.60 447.03,58.60 447.63,58.60 448.22,58.60 448.82,58.60 449.42,58.59 450.02,58.59 450.61,58.59 451.21,58.59 451.81,58.59 452.41,58.59 453.01,58.59 453.60,58.59 454.20,58.59 454.80,58.59 455.40,58.59 456.00,58.59 456.59,58.59 457.19,58.59 457.79,58.58 458.39,58.58 458.99,58.58 459.58,58.58 460.18,58.58 460.78,58.58 461.38,58.58 461.97,58.58 462.57,58.58 463.17,58.58 463.77,58.58 464.37,58.58 464.96,58.58 465.56,58.58 466.16,58.58 466.76,58.57 467.36,58.57 467.95,58.57 468.55,58.57 469.15,58.57 469.75,58.57 470.35,58.57 470.94,58.57 471.54,58.57 472.14,58.57 472.74,58.57 473.34,58.57 473.93,58.57 474.53,58.57 475.13,58.57 475.73,58.57 476.32,58.57 476.92,58.57 477.52,58.56 478.12,58.56 478.72,58.56 479.31,58.56 479.91,58.56 480.51,58.56 481.11,58.56 481.71,58.56 482.30,58.56 482.90,58.56 483.50,58.56 484.10,58.56 484.70,58.56 485.29,58.56 485.89,58.56 486.49,58.56 487.09,58.56 487.68,58.56 488.28,58.56 488.88,58.56 489.48,58.56 490.08,58.55 490.67,58.55 491.27,58.55 491.87,58.55 492.47,58.55 493.07,58.55 493.66,58.55 494.26,58.55 494.86,58.55 495.46,58.55 496.06,58.55 496.65,58.55 497.25,58.55 497.85,58.55 498.45,58.55 499.04,58.55 499.64,58.55 500.24,58.55 500.84,58.55 501.44,58.55 502.03,58.55 502.63,58.55 503.23,58.55 503.83,58.55 504.43,58.54 505.02,58.54 505.62,58.54 506.22,58.54 506.82,58.54 507.42,58.54 508.01,58.54 508.61,58.54 509.21,58.54 509.81,58.54 510.40,58.54 511.00,58.54 511.60,58.54 512.20,58.54 512.80,58.54 513.39,58.54 513.99,58.54 514.59,58.54 515.19,58.54" fill="none" stroke="#557a8c" stroke-width="1.4"/>
<circle cx="323.86" cy="93.20" r="2.1" fill="#163a52" stroke="#163a52" stroke-width="0.75"/>
<circle cx="325.06" cy="70.02" r="2.1" fill="#163a52" stroke="#163a52" stroke-width="0.75"/>
<circle cx="326.25" cy="69.41" r="2.1" fill="#163a52" stroke="#163a52" stroke-width="0.75"/>
<circle cx="329.84" cy="64.41" r="2.1" fill="#163a52" stroke="#163a52" stroke-width="0.75"/>
<circle cx="333.43" cy="58.86" r="2.1" fill="#163a52" stroke="#163a52" stroke-width="0.75"/>
<circle cx="351.36" cy="58.86" r="2.1" fill="#163a52" stroke="#163a52" stroke-width="0.75"/>
<circle cx="357.34" cy="57.58" r="2.1" fill="#163a52" stroke="#163a52" stroke-width="0.75"/>
<circle cx="381.26" cy="63.37" r="2.1" fill="#163a52" stroke="#163a52" stroke-width="0.75"/>
<circle cx="438.66" cy="63.92" r="2.1" fill="#163a52" stroke="#163a52" stroke-width="0.75"/>
<circle cx="467.36" cy="64.53" r="2.1" fill="#163a52" stroke="#163a52" stroke-width="0.75"/>
<circle cx="496.06" cy="64.53" r="2.1" fill="#163a52" stroke="#163a52" stroke-width="0.75"/>
<circle cx="430" cy="78.20" r="2.1" fill="#163a52" stroke="#163a52" stroke-width="0.75"/>
<text x="438.6" y="80.50" font-size="6.4" fill="#333" font-family='"Liberation Sans", sans-serif'>P0_5</text>
<line x1="423" y1="85.40" x2="436.6" y2="85.40" stroke="#557a8c" stroke-width="1.2"/>
<text x="438.6" y="87.70" font-size="6.4" fill="#333" font-family='"Liberation Sans", sans-serif'>P0_5 fitted by Langmuir</text>
<line x1="423" y1="93.20" x2="436.6" y2="93.20" stroke="#557a8c" stroke-width="1.2" stroke-dasharray="4.5,4.5"/>
<text x="438.6" y="95.50" font-size="6.4" fill="#333" font-family='"Liberation Sans", sans-serif'>P0_5 fitted by Freundlich</text>
<rect x="311.9" y="110.1" width="227.20000000000005" height="54.60" fill="none" stroke="#444444" stroke-width="1.2"/>
<line x1="310.09999999999997" y1="164.70" x2="311.9" y2="164.70" stroke="#444444" stroke-width="1"/>
<line x1="308.9" y1="156.90" x2="311.9" y2="156.90" stroke="#444444" stroke-width="1"/>
<text x="306.09999999999997" y="159.90" text-anchor="end" font-size="7.9" fill="#222222" stroke="#222222" stroke-width="0.15" font-family='"Liberation Sans", sans-serif'>0</text>
<line x1="310.09999999999997" y1="149.10" x2="311.9" y2="149.10" stroke="#444444" stroke-width="1"/>
<line x1="308.9" y1="141.30" x2="311.9" y2="141.30" stroke="#444444" stroke-width="1"/>
<text x="306.09999999999997" y="144.30" text-anchor="end" font-size="7.9" fill="#222222" stroke="#222222" stroke-width="0.15" font-family='"Liberation Sans", sans-serif'>50</text>
<line x1="310.09999999999997" y1="133.50" x2="311.9" y2="133.50" stroke="#444444" stroke-width="1"/>
<line x1="308.9" y1="125.70" x2="311.9" y2="125.70" stroke="#444444" stroke-width="1"/>
<text x="306.09999999999997" y="128.70" text-anchor="end" font-size="7.9" fill="#222222" stroke="#222222" stroke-width="0.15" font-family='"Liberation Sans", sans-serif'>100</text>
<line x1="310.09999999999997" y1="117.90" x2="311.9" y2="117.90" stroke="#444444" stroke-width="1"/>
<line x1="308.9" y1="110.10" x2="311.9" y2="110.10" stroke="#444444" stroke-width="1"/>
<text x="306.09999999999997" y="113.10" text-anchor="end" font-size="7.9" fill="#222222" stroke="#222222" stroke-width="0.15" font-family='"Liberation Sans", sans-serif'>150</text>
<line x1="311.90" y1="164.70" x2="311.90" y2="166.50" stroke="#444444" stroke-width="1"/>
<line x1="323.86" y1="164.70" x2="323.86" y2="167.70" stroke="#444444" stroke-width="1"/>
<line x1="335.82" y1="164.70" x2="335.82" y2="166.50" stroke="#444444" stroke-width="1"/>
<line x1="347.78" y1="164.70" x2="347.78" y2="167.70" stroke="#444444" stroke-width="1"/>
<line x1="359.73" y1="164.70" x2="359.73" y2="166.50" stroke="#444444" stroke-width="1"/>
<line x1="371.69" y1="164.70" x2="371.69" y2="167.70" stroke="#444444" stroke-width="1"/>
<line x1="383.65" y1="164.70" x2="383.65" y2="166.50" stroke="#444444" stroke-width="1"/>
<line x1="395.61" y1="164.70" x2="395.61" y2="167.70" stroke="#444444" stroke-width="1"/>
<line x1="407.57" y1="164.70" x2="407.57" y2="166.50" stroke="#444444" stroke-width="1"/>
<line x1="419.52" y1="164.70" x2="419.52" y2="167.70" stroke="#444444" stroke-width="1"/>
<line x1="431.48" y1="164.70" x2="431.48" y2="166.50" stroke="#444444" stroke-width="1"/>
<line x1="443.44" y1="164.70" x2="443.44" y2="167.70" stroke="#444444" stroke-width="1"/>
<line x1="455.40" y1="164.70" x2="455.40" y2="166.50" stroke="#444444" stroke-width="1"/>
<line x1="467.36" y1="164.70" x2="467.36" y2="167.70" stroke="#444444" stroke-width="1"/>
<line x1="479.31" y1="164.70" x2="479.31" y2="166.50" stroke="#444444" stroke-width="1"/>
<line x1="491.27" y1="164.70" x2="491.27" y2="167.70" stroke="#444444" stroke-width="1"/>
<line x1="503.23" y1="164.70" x2="503.23" y2="166.50" stroke="#444444" stroke-width="1"/>
<line x1="515.19" y1="164.70" x2="515.19" y2="167.70" stroke="#444444" stroke-width="1"/>
<line x1="527.15" y1="164.70" x2="527.15" y2="166.50" stroke="#444444" stroke-width="1"/>
<line x1="539.10" y1="164.70" x2="539.10" y2="167.70" stroke="#444444" stroke-width="1"/>
<text x="531.8" y="125.40" text-anchor="middle" font-size="13.3" fill="#111" stroke="#111" stroke-width="0.2" font-family='"Liberation Sans", sans-serif'>b</text>
<polyline points="323.86,156.90 323.92,136.34 323.98,135.09 324.04,134.33 324.10,133.77 324.16,133.33 324.22,132.96 324.28,132.64 324.34,132.37 324.40,132.12 324.46,131.90 324.52,131.69 324.58,131.51 324.64,131.33 324.70,131.17 324.76,131.02 324.82,130.88 324.88,130.74 324.94,130.62 325.00,130.50 325.06,130.38 325.12,130.27 325.18,130.16 325.24,130.06 325.29,129.97 325.35,129.87 325.41,129.78 325.47,129.69 325.53,129.61 325.59,129.53 325.65,129.45 325.71,129.37 325.77,129.30 325.83,129.23 325.89,129.16 325.95,129.09 326.01,129.02 326.07,128.96 326.13,128.89 326.19,128.83 326.25,128.77 326.31,128.71 326.37,128.65 326.43,128.60 326.49,128.54 326.55,128.49 326.61,128.43 326.67,128.38 326.73,128.33 326.79,128.28 326.85,128.23 326.91,128.18 326.97,128.14 327.03,128.09 327.09,128.04 327.15,128.00 327.21,127.95 327.27,127.91 327.33,127.87 327.39,127.83 327.45,127.78 327.51,127.74 327.57,127.70 327.63,127.66 327.69,127.62 327.75,127.59 327.81,127.55 327.87,127.51 327.93,127.47 327.99,127.44 328.05,127.40 328.11,127.36 328.16,127.33 328.22,127.29 328.28,127.26 328.34,127.23 328.40,127.19 328.46,127.16 328.52,127.13 328.58,127.10 328.64,127.06 328.70,127.03 328.76,127.00 328.82,126.97 328.88,126.94 328.94,126.91 329.00,126.88 329.06,126.85 329.12,126.82 329.18,126.79 329.24,126.76 329.30,126.73 329.36,126.71 329.42,126.68 329.48,126.65 329.54,126.62 329.60,126.60 329.66,126.57 329.72,126.54 329.78,126.52 329.84,126.49 329.90,126.47 329.96,126.44 330.02,126.42 330.08,126.39 330.14,126.37 330.20,126.34 330.26,126.32 330.32,126.29 330.38,126.27 330.44,126.24 330.50,126.22 330.56,126.20 330.62,126.17 330.68,126.15 330.74,126.13 330.80,126.11 330.86,126.08 330.92,126.06 330.98,126.04 331.03,126.02 331.09,126.00 331.15,125.97 331.21,125.95 331.27,125.93 331.33,125.91 331.39,125.89 331.45,125.87 331.51,125.85 331.57,125.83 331.63,125.81 331.69,125.79 331.75,125.77 331.81,125.75 331.87,125.73 331.93,125.71 331.99,125.69 332.05,125.67 332.11,125.65 332.17,125.63 332.23,125.61 332.29,125.59 332.35,125.57 332.41,125.55 332.47,125.53 332.53,125.52 332.59,125.50 332.65,125.48 332.71,125.46 332.77,125.44 332.83,125.43 332.89,125.41 332.95,125.39 333.01,125.37 333.07,125.36 333.13,125.34 333.19,125.32 333.25,125.30 333.31,125.29 333.37,125.27 333.43,125.25 333.49,125.24 333.55,125.22 333.61,125.20 333.67,125.19 333.73,125.17 333.79,125.15 333.84,125.14 333.90,125.12 333.96,125.11 334.02,125.09 334.08,125.07 334.14,125.06 334.20,125.04 334.26,125.03 334.32,125.01 334.38,125.00 334.44,124.98 334.50,124.96 334.56,124.95 334.62,124.93 334.68,124.92 334.74,124.90 334.80,124.89 334.86,124.87 334.92,124.86 334.98,124.85 335.04,124.83 335.10,124.82 335.16,124.80 335.22,124.79 335.28,124.77 335.34,124.76 335.40,124.74 335.46,124.73 335.52,124.72 335.58,124.70 335.64,124.69 335.70,124.67 335.76,124.66 335.82,124.65 336.42,124.51 337.01,124.38 337.61,124.26 338.21,124.14 338.81,124.03 339.41,123.92 340.00,123.81 340.60,123.71 341.20,123.61 341.80,123.52 342.39,123.42 342.99,123.33 343.59,123.24 344.19,123.16 344.79,123.08 345.38,122.99 345.98,122.92 346.58,122.84 347.18,122.76 347.78,122.69 348.37,122.62 348.97,122.55 349.57,122.48 350.17,122.41 350.77,122.35 351.36,122.28 351.96,122.22 352.56,122.16 353.16,122.09 353.75,122.03 354.35,121.98 354.95,121.92 355.55,121.86 356.15,121.81 356.74,121.75 357.34,121.70 357.94,121.64 358.54,121.59 359.14,121.54 359.73,121.49 360.33,121.44 360.93,121.39 361.53,121.34 362.13,121.29 362.72,121.25 363.32,121.20 363.92,121.16 364.52,121.11 365.12,121.07 365.71,121.02 366.31,120.98 366.91,120.94 367.51,120.89 368.10,120.85 368.70,120.81 369.30,120.77 369.90,120.73 370.50,120.69 371.09,120.65 371.69,120.61 372.29,120.57 372.89,120.54 373.49,120.50 374.08,120.46 374.68,120.43 375.28,120.39 375.88,120.35 376.48,120.32 377.07,120.28 377.67,120.25 378.27,120.21 378.87,120.18 379.46,120.15 380.06,120.11 380.66,120.08 381.26,120.05 381.86,120.01 382.45,119.98 383.05,119.95 383.65,119.92 384.25,119.89 384.85,119.86 385.44,119.83 386.04,119.79 386.64,119.76 387.24,119.73 387.84,119.71 388.43,119.68 389.03,119.65 389.63,119.62 390.23,119.59 390.82,119.56 391.42,119.53 392.02,119.50 392.62,119.48 393.22,119.45 393.81,119.42 394.41,119.39 395.01,119.37 395.61,119.34 396.21,119.31 396.80,119.29 397.40,119.26 398.00,119.24 398.60,119.21 399.20,119.18 399.79,119.16 400.39,119.13 400.99,119.11 401.59,119.08 402.18,119.06 402.78,119.04 403.38,119.01 403.98,118.99 404.58,118.96 405.17,118.94 405.77,118.92 406.37,118.89 406.97,118.87 407.57,118.85 408.16,118.82 408.76,118.80 409.36,118.78 409.96,118.75 410.56,118.73 411.15,118.71 411.75,118.69 412.35,118.67 412.95,118.64 413.55,118.62 414.14,118.60 414.74,118.58 415.34,118.56 415.94,118.54 416.53,118.51 417.13,118.49 417.73,118.47 418.33,118.45 418.93,118.43 419.52,118.41 420.12,118.39 420.72,118.37 421.32,118.35 421.92,118.33 422.51,118.31 423.11,118.29 423.71,118.27 424.31,118.25 424.91,118.23 425.50,118.21 426.10,118.19 426.70,118.17 427.30,118.15 427.89,118.14 428.49,118.12 429.09,118.10 429.69,118.08 430.29,118.06 430.88,118.04 431.48,118.02 432.08,118.01 432.68,117.99 433.28,117.97 433.87,117.95 434.47,117.93 435.07,117.92 435.67,117.90 436.27,117.88 436.86,117.86 437.46,117.84 438.06,117.83 438.66,117.81 439.25,117.79 439.85,117.78 440.45,117.76 441.05,117.74 441.65,117.72 442.24,117.71 442.84,117.69 443.44,117.67 444.04,117.66 444.64,117.64 445.23,117.62 445.83,117.61 446.43,117.59 447.03,117.58 447.63,117.56 448.22,117.54 448.82,117.53 449.42,117.51 450.02,117.50 450.61,117.48 451.21,117.46 451.81,117.45 452.41,117.43 453.01,117.42 453.60,117.40 454.20,117.39 454.80,117.37 455.40,117.35 456.00,117.34 456.59,117.32 457.19,117.31 457.79,117.29 458.39,117.28 458.99,117.26 459.58,117.25 460.18,117.23 460.78,117.22 461.38,117.21 461.97,117.19 462.57,117.18 463.17,117.16 463.77,117.15 464.37,117.13 464.96,117.12 465.56,117.10 466.16,117.09 466.76,117.08 467.36,117.06 467.95,117.05 468.55,117.03 469.15,117.02 469.75,117.01 470.35,116.99 470.94,116.98 471.54,116.96 472.14,116.95 472.74,116.94 473.34,116.92 473.93,116.91 474.53,116.90 475.13,116.88 475.73,116.87 476.32,116.86 476.92,116.84 477.52,116.83 478.12,116.82 478.72,116.80 479.31,116.79 479.91,116.78 480.51,116.76 481.11,116.75 481.71,116.74 482.30,116.72 482.90,116.71 483.50,116.70 484.10,116.69 484.70,116.67 485.29,116.66 485.89,116.65 486.49,116.64 487.09,116.62 487.68,116.61 488.28,116.60 488.88,116.59 489.48,116.57 490.08,116.56 490.67,116.55 491.27,116.54 491.87,116.52 492.47,116.51 493.07,116.50 493.66,116.49 494.26,116.48 494.86,116.46 495.46,116.45 496.06,116.44 496.65,116.43 497.25,116.42 497.85,116.40 498.45,116.39 499.04,116.38 499.64,116.37 500.24,116.36 500.84,116.34 501.44,116.33 502.03,116.32 502.63,116.31 503.23,116.30 503.83,116.29 504.43,116.28 505.02,116.26 505.62,116.25 506.22,116.24 506.82,116.23 507.42,116.22 508.01,116.21 508.61,116.20 509.21,116.19 509.81,116.17 510.40,116.16 511.00,116.15 511.60,116.14 512.20,116.13 512.80,116.12 513.39,116.11 513.99,116.10 514.59,116.09 515.19,116.08" fill="none" stroke="#5ac0a8" stroke-width="1.4" stroke-dasharray="4.5,4.7"/>
<polyline points="323.86,156.90 323.92,153.78 323.98,151.18 324.04,148.98 324.10,147.09 324.16,145.46 324.22,144.03 324.28,142.77 324.34,141.65 324.40,140.64 324.46,139.74 324.52,138.92 324.58,138.18 324.64,137.50 324.70,136.88 324.76,136.31 324.82,135.78 324.88,135.29 324.94,134.84 325.00,134.41 325.06,134.02 325.12,133.65 325.18,133.31 325.24,132.98 325.29,132.67 325.35,132.39 325.41,132.11 325.47,131.86 325.53,131.61 325.59,131.38 325.65,131.16 325.71,130.95 325.77,130.75 325.83,130.56 325.89,130.38 325.95,130.21 326.01,130.04 326.07,129.88 326.13,129.73 326.19,129.58 326.25,129.44 326.31,129.31 326.37,129.18 326.43,129.06 326.49,128.94 326.55,128.82 326.61,128.71 326.67,128.60 326.73,128.50 326.79,128.40 326.85,128.30 326.91,128.21 326.97,128.12 327.03,128.03 327.09,127.94 327.15,127.86 327.21,127.78 327.27,127.70 327.33,127.63 327.39,127.55 327.45,127.48 327.51,127.41 327.57,127.35 327.63,127.28 327.69,127.22 327.75,127.16 327.81,127.10 327.87,127.04 327.93,126.98 327.99,126.92 328.05,126.87 328.11,126.82 328.16,126.77 328.22,126.71 328.28,126.67 328.34,126.62 328.40,126.57 328.46,126.52 328.52,126.48 328.58,126.44 328.64,126.39 328.70,126.35 328.76,126.31 328.82,126.27 328.88,126.23 328.94,126.19 329.00,126.15 329.06,126.12 329.12,126.08 329.18,126.05 329.24,126.01 329.30,125.98 329.36,125.94 329.42,125.91 329.48,125.88 329.54,125.85 329.60,125.82 329.66,125.79 329.72,125.76 329.78,125.73 329.84,125.70 329.90,125.67 329.96,125.64 330.02,125.62 330.08,125.59 330.14,125.56 330.20,125.54 330.26,125.51 330.32,125.49 330.38,125.46 330.44,125.44 330.50,125.42 330.56,125.39 330.62,125.37 330.68,125.35 330.74,125.33 330.80,125.30 330.86,125.28 330.92,125.26 330.98,125.24 331.03,125.22 331.09,125.20 331.15,125.18 331.21,125.16 331.27,125.14 331.33,125.12 331.39,125.10 331.45,125.09 331.51,125.07 331.57,125.05 331.63,125.03 331.69,125.01 331.75,125.00 331.81,124.98 331.87,124.96 331.93,124.95 331.99,124.93 332.05,124.91 332.11,124.90 332.17,124.88 332.23,124.87 332.29,124.85 332.35,124.84 332.41,124.82 332.47,124.81 332.53,124.79 332.59,124.78 332.65,124.77 332.71,124.75 332.77,124.74 332.83,124.72 332.89,124.71 332.95,124.70 333.01,124.69 333.07,124.67 333.13,124.66 333.19,124.65 333.25,124.64 333.31,124.62 333.37,124.61 333.43,124.60 333.49,124.59 333.55,124.58 333.61,124.56 333.67,124.55 333.73,124.54 333.79,124.53 333.84,124.52 333.90,124.51 333.96,124.50 334.02,124.49 334.08,124.48 334.14,124.47 334.20,124.46 334.26,124.45 334.32,124.44 334.38,124.43 334.44,124.42 334.50,124.41 334.56,124.40 334.62,124.39 334.68,124.38 334.74,124.37 334.80,124.36 334.86,124.35 334.92,124.34 334.98,124.33 335.04,124.32 335.10,124.31 335.16,124.30 335.22,124.30 335.28,124.29 335.34,124.28 335.40,124.27 335.46,124.26 335.52,124.25 335.58,124.25 335.64,124.24 335.70,124.23 335.76,124.22 335.82,124.21 336.42,124.14 337.01,124.07 337.61,124.01 338.21,123.95 338.81,123.90 339.41,123.85 340.00,123.81 340.60,123.76 341.20,123.72 341.80,123.69 342.39,123.65 342.99,123.62 343.59,123.59 344.19,123.56 344.79,123.53 345.38,123.51 345.98,123.48 346.58,123.46 347.18,123.44 347.78,123.42 348.37,123.40 348.97,123.38 349.57,123.36 350.17,123.34 350.77,123.33 351.36,123.31 351.96,123.30 352.56,123.28 353.16,123.27 353.75,123.25 354.35,123.24 354.95,123.23 355.55,123.22 356.15,123.20 356.74,123.19 357.34,123.18 357.94,123.17 358.54,123.16 359.14,123.15 359.73,123.14 360.33,123.13 360.93,123.12 361.53,123.12 362.13,123.11 362.72,123.10 363.32,123.09 363.92,123.08 364.52,123.08 365.12,123.07 365.71,123.06 366.31,123.06 366.91,123.05 367.51,123.04 368.10,123.04 368.70,123.03 369.30,123.03 369.90,123.02 370.50,123.01 371.09,123.01 371.69,123.00 372.29,123.00 372.89,122.99 373.49,122.99 374.08,122.98 374.68,122.98 375.28,122.97 375.88,122.97 376.48,122.97 377.07,122.96 377.67,122.96 378.27,122.95 378.87,122.95 379.46,122.95 380.06,122.94 380.66,122.94 381.26,122.93 381.86,122.93 382.45,122.93 383.05,122.92 383.65,122.92 384.25,122.92 384.85,122.91 385.44,122.91 386.04,122.91 386.64,122.90 387.24,122.90 387.84,122.90 388.43,122.89 389.03,122.89 389.63,122.89 390.23,122.89 390.82,122.88 391.42,122.88 392.02,122.88 392.62,122.88 393.22,122.87 393.81,122.87 394.41,122.87 395.01,122.87 395.61,122.86 396.21,122.86 396.80,122.86 397.40,122.86 398.00,122.85 398.60,122.85 399.20,122.85 399.79,122.85 400.39,122.85 400.99,122.84 401.59,122.84 402.18,122.84 402.78,122.84 403.38,122.84 403.98,122.83 404.58,122.83 405.17,122.83 405.77,122.83 406.37,122.83 406.97,122.83 407.57,122.82 408.16,122.82 408.76,122.82 409.36,122.82 409.96,122.82 410.56,122.82 411.15,122.81 411.75,122.81 412.35,122.81 412.95,122.81 413.55,122.81 414.14,122.81 414.74,122.80 415.34,122.80 415.94,122.80 416.53,122.80 417.13,122.80 417.73,122.80 418.33,122.80 418.93,122.79 419.52,122.79 420.12,122.79 420.72,122.79 421.32,122.79 421.92,122.79 422.51,122.79 423.11,122.79 423.71,122.78 424.31,122.78 424.91,122.78 425.50,122.78 426.10,122.78 426.70,122.78 427.30,122.78 427.89,122.78 428.49,122.77 429.09,122.77 429.69,122.77 430.29,122.77 430.88,122.77 431.48,122.77 432.08,122.77 432.68,122.77 433.28,122.77 433.87,122.77 434.47,122.76 435.07,122.76 435.67,122.76 436.27,122.76 436.86,122.76 437.46,122.76 438.06,122.76 438.66,122.76 439.25,122.76 439.85,122.76 440.45,122.76 441.05,122.75 441.65,122.75 442.24,122.75 442.84,122.75 443.44,122.75 444.04,122.75 444.64,122.75 445.23,122.75 445.83,122.75 446.43,122.75 447.03,122.75 447.63,122.75 448.22,122.74 448.82,122.74 449.42,122.74 450.02,122.74 450.61,122.74 451.21,122.74 451.81,122.74 452.41,122.74 453.01,122.74 453.60,122.74 454.20,122.74 454.80,122.74 455.40,122.74 456.00,122.73 456.59,122.73 457.19,122.73 457.79,122.73 458.39,122.73 458.99,122.73 459.58,122.73 460.18,122.73 460.78,122.73 461.38,122.73 461.97,122.73 462.57,122.73 463.17,122.73 463.77,122.73 464.37,122.73 464.96,122.72 465.56,122.72 466.16,122.72 466.76,122.72 467.36,122.72 467.95,122.72 468.55,122.72 469.15,122.72 469.75,122.72 470.35,122.72 470.94,122.72 471.54,122.72 472.14,122.72 472.74,122.72 473.34,122.72 473.93,122.72 474.53,122.72 475.13,122.72 475.73,122.71 476.32,122.71 476.92,122.71 477.52,122.71 478.12,122.71 478.72,122.71 479.31,122.71 479.91,122.71 480.51,122.71 481.11,122.71 481.71,122.71 482.30,122.71 482.90,122.71 483.50,122.71 484.10,122.71 484.70,122.71 485.29,122.71 485.89,122.71 486.49,122.71 487.09,122.71 487.68,122.70 488.28,122.70 488.88,122.70 489.48,122.70 490.08,122.70 490.67,122.70 491.27,122.70 491.87,122.70 492.47,122.70 493.07,122.70 493.66,122.70 494.26,122.70 494.86,122.70 495.46,122.70 496.06,122.70 496.65,122.70 497.25,122.70 497.85,122.70 498.45,122.70 499.04,122.70 499.64,122.70 500.24,122.70 500.84,122.70 501.44,122.70 502.03,122.69 502.63,122.69 503.23,122.69 503.83,122.69 504.43,122.69 505.02,122.69 505.62,122.69 506.22,122.69 506.82,122.69 507.42,122.69 508.01,122.69 508.61,122.69 509.21,122.69 509.81,122.69 510.40,122.69 511.00,122.69 511.60,122.69 512.20,122.69 512.80,122.69 513.39,122.69 513.99,122.69 514.59,122.69 515.19,122.69" fill="none" stroke="#5ac0a8" stroke-width="1.4"/>
<circle cx="323.86" cy="156.90" r="2.1" fill="#1a9070" stroke="#106650" stroke-width="0.75"/>
<circle cx="325.06" cy="130.69" r="2.1" fill="#1a9070" stroke="#106650" stroke-width="0.75"/>
<circle cx="326.25" cy="130.07" r="2.1" fill="#1a9070" stroke="#106650" stroke-width="0.75"/>
<circle cx="329.84" cy="127.07" r="2.1" fill="#1a9070" stroke="#106650" stroke-width="0.75"/>
<circle cx="333.43" cy="123.52" r="2.1" fill="#1a9070" stroke="#106650" stroke-width="0.75"/>
<circle cx="351.36" cy="123.52" r="2.1" fill="#1a9070" stroke="#106650" stroke-width="0.75"/>
<circle cx="357.34" cy="121.08" r="2.1" fill="#1a9070" stroke="#106650" stroke-width="0.75"/>
<circle cx="381.26" cy="126.64" r="2.1" fill="#1a9070" stroke="#106650" stroke-width="0.75"/>
<circle cx="438.66" cy="126.64" r="2.1" fill="#1a9070" stroke="#106650" stroke-width="0.75"/>
<circle cx="467.36" cy="127.35" r="2.1" fill="#1a9070" stroke="#106650" stroke-width="0.75"/>
<circle cx="496.06" cy="128.07" r="2.1" fill="#1a9070" stroke="#106650" stroke-width="0.75"/>
<circle cx="433" cy="141.70" r="2.1" fill="#1a9070" stroke="#106650" stroke-width="0.75"/>
<text x="441.6" y="144.00" font-size="6.4" fill="#333" font-family='"Liberation Sans", sans-serif'>P1</text>
<line x1="426" y1="149.50" x2="439.6" y2="149.50" stroke="#5ac0a8" stroke-width="1.2"/>
<text x="441.6" y="151.80" font-size="6.4" fill="#333" font-family='"Liberation Sans", sans-serif'>P1 fitted by Langmuir</text>
<line x1="426" y1="156.50" x2="439.6" y2="156.50" stroke="#5ac0a8" stroke-width="1.2" stroke-dasharray="4.5,4.5"/>
<text x="441.6" y="158.80" font-size="6.4" fill="#333" font-family='"Liberation Sans", sans-serif'>P1 fitted by Freundlich</text>
<rect x="311.9" y="175.4" width="227.20000000000005" height="54.90" fill="none" stroke="#444444" stroke-width="1.2"/>
<line x1="310.09999999999997" y1="230.30" x2="311.9" y2="230.30" stroke="#444444" stroke-width="1"/>
<line x1="308.9" y1="224.20" x2="311.9" y2="224.20" stroke="#444444" stroke-width="1"/>
<text x="306.09999999999997" y="227.20" text-anchor="end" font-size="7.9" fill="#222222" stroke="#222222" stroke-width="0.15" font-family='"Liberation Sans", sans-serif'>0</text>
<line x1="310.09999999999997" y1="218.10" x2="311.9" y2="218.10" stroke="#444444" stroke-width="1"/>
<line x1="308.9" y1="212.00" x2="311.9" y2="212.00" stroke="#444444" stroke-width="1"/>
<text x="306.09999999999997" y="215.00" text-anchor="end" font-size="7.9" fill="#222222" stroke="#222222" stroke-width="0.15" font-family='"Liberation Sans", sans-serif'>60</text>
<line x1="310.09999999999997" y1="205.90" x2="311.9" y2="205.90" stroke="#444444" stroke-width="1"/>
<line x1="308.9" y1="199.80" x2="311.9" y2="199.80" stroke="#444444" stroke-width="1"/>
<text x="306.09999999999997" y="202.80" text-anchor="end" font-size="7.9" fill="#222222" stroke="#222222" stroke-width="0.15" font-family='"Liberation Sans", sans-serif'>120</text>
<line x1="310.09999999999997" y1="193.70" x2="311.9" y2="193.70" stroke="#444444" stroke-width="1"/>
<line x1="308.9" y1="187.60" x2="311.9" y2="187.60" stroke="#444444" stroke-width="1"/>
<text x="306.09999999999997" y="190.60" text-anchor="end" font-size="7.9" fill="#222222" stroke="#222222" stroke-width="0.15" font-family='"Liberation Sans", sans-serif'>180</text>
<line x1="310.09999999999997" y1="181.50" x2="311.9" y2="181.50" stroke="#444444" stroke-width="1"/>
<line x1="308.9" y1="175.40" x2="311.9" y2="175.40" stroke="#444444" stroke-width="1"/>
<text x="306.09999999999997" y="178.40" text-anchor="end" font-size="7.9" fill="#222222" stroke="#222222" stroke-width="0.15" font-family='"Liberation Sans", sans-serif'>240</text>
<line x1="311.90" y1="230.30" x2="311.90" y2="232.10" stroke="#444444" stroke-width="1"/>
<line x1="323.86" y1="230.30" x2="323.86" y2="233.30" stroke="#444444" stroke-width="1"/>
<line x1="335.82" y1="230.30" x2="335.82" y2="232.10" stroke="#444444" stroke-width="1"/>
<line x1="347.78" y1="230.30" x2="347.78" y2="233.30" stroke="#444444" stroke-width="1"/>
<line x1="359.73" y1="230.30" x2="359.73" y2="232.10" stroke="#444444" stroke-width="1"/>
<line x1="371.69" y1="230.30" x2="371.69" y2="233.30" stroke="#444444" stroke-width="1"/>
<line x1="383.65" y1="230.30" x2="383.65" y2="232.10" stroke="#444444" stroke-width="1"/>
<line x1="395.61" y1="230.30" x2="395.61" y2="233.30" stroke="#444444" stroke-width="1"/>
<line x1="407.57" y1="230.30" x2="407.57" y2="232.10" stroke="#444444" stroke-width="1"/>
<line x1="419.52" y1="230.30" x2="419.52" y2="233.30" stroke="#444444" stroke-width="1"/>
<line x1="431.48" y1="230.30" x2="431.48" y2="232.10" stroke="#444444" stroke-width="1"/>
<line x1="443.44" y1="230.30" x2="443.44" y2="233.30" stroke="#444444" stroke-width="1"/>
<line x1="455.40" y1="230.30" x2="455.40" y2="232.10" stroke="#444444" stroke-width="1"/>
<line x1="467.36" y1="230.30" x2="467.36" y2="233.30" stroke="#444444" stroke-width="1"/>
<line x1="479.31" y1="230.30" x2="479.31" y2="232.10" stroke="#444444" stroke-width="1"/>
<line x1="491.27" y1="230.30" x2="491.27" y2="233.30" stroke="#444444" stroke-width="1"/>
<line x1="503.23" y1="230.30" x2="503.23" y2="232.10" stroke="#444444" stroke-width="1"/>
<line x1="515.19" y1="230.30" x2="515.19" y2="233.30" stroke="#444444" stroke-width="1"/>
<line x1="527.15" y1="230.30" x2="527.15" y2="232.10" stroke="#444444" stroke-width="1"/>
<line x1="539.10" y1="230.30" x2="539.10" y2="233.30" stroke="#444444" stroke-width="1"/>
<text x="532.1" y="190.70" text-anchor="middle" font-size="13.3" fill="#111" stroke="#111" stroke-width="0.2" font-family='"Liberation Sans", sans-serif'>c</text>
<polyline points="323.86,224.20 323.92,205.69 323.98,204.40 324.04,203.59 324.10,203.01 324.16,202.54 324.22,202.15 324.28,201.81 324.34,201.52 324.40,201.26 324.46,201.02 324.52,200.80 324.58,200.60 324.64,200.42 324.70,200.24 324.76,200.08 324.82,199.93 324.88,199.78 324.94,199.65 325.00,199.52 325.06,199.39 325.12,199.27 325.18,199.16 325.24,199.05 325.29,198.95 325.35,198.85 325.41,198.75 325.47,198.65 325.53,198.56 325.59,198.48 325.65,198.39 325.71,198.31 325.77,198.23 325.83,198.15 325.89,198.07 325.95,198.00 326.01,197.93 326.07,197.86 326.13,197.79 326.19,197.72 326.25,197.65 326.31,197.59 326.37,197.53 326.43,197.46 326.49,197.40 326.55,197.35 326.61,197.29 326.67,197.23 326.73,197.18 326.79,197.12 326.85,197.07 326.91,197.02 326.97,196.96 327.03,196.91 327.09,196.86 327.15,196.81 327.21,196.77 327.27,196.72 327.33,196.67 327.39,196.62 327.45,196.58 327.51,196.53 327.57,196.49 327.63,196.45 327.69,196.40 327.75,196.36 327.81,196.32 327.87,196.28 327.93,196.24 327.99,196.20 328.05,196.16 328.11,196.12 328.16,196.08 328.22,196.04 328.28,196.01 328.34,195.97 328.40,195.93 328.46,195.90 328.52,195.86 328.58,195.83 328.64,195.79 328.70,195.76 328.76,195.72 328.82,195.69 328.88,195.66 328.94,195.62 329.00,195.59 329.06,195.56 329.12,195.53 329.18,195.49 329.24,195.46 329.30,195.43 329.36,195.40 329.42,195.37 329.48,195.34 329.54,195.31 329.60,195.28 329.66,195.25 329.72,195.22 329.78,195.19 329.84,195.16 329.90,195.14 329.96,195.11 330.02,195.08 330.08,195.05 330.14,195.03 330.20,195.00 330.26,194.97 330.32,194.95 330.38,194.92 330.44,194.89 330.50,194.87 330.56,194.84 330.62,194.82 330.68,194.79 330.74,194.77 330.80,194.74 330.86,194.72 330.92,194.69 330.98,194.67 331.03,194.64 331.09,194.62 331.15,194.59 331.21,194.57 331.27,194.55 331.33,194.52 331.39,194.50 331.45,194.48 331.51,194.46 331.57,194.43 331.63,194.41 331.69,194.39 331.75,194.37 331.81,194.34 331.87,194.32 331.93,194.30 331.99,194.28 332.05,194.26 332.11,194.24 332.17,194.21 332.23,194.19 332.29,194.17 332.35,194.15 332.41,194.13 332.47,194.11 332.53,194.09 332.59,194.07 332.65,194.05 332.71,194.03 332.77,194.01 332.83,193.99 332.89,193.97 332.95,193.95 333.01,193.93 333.07,193.91 333.13,193.89 333.19,193.87 333.25,193.86 333.31,193.84 333.37,193.82 333.43,193.80 333.49,193.78 333.55,193.76 333.61,193.74 333.67,193.73 333.73,193.71 333.79,193.69 333.84,193.67 333.90,193.65 333.96,193.64 334.02,193.62 334.08,193.60 334.14,193.58 334.20,193.57 334.26,193.55 334.32,193.53 334.38,193.51 334.44,193.50 334.50,193.48 334.56,193.46 334.62,193.45 334.68,193.43 334.74,193.41 334.80,193.40 334.86,193.38 334.92,193.36 334.98,193.35 335.04,193.33 335.10,193.32 335.16,193.30 335.22,193.28 335.28,193.27 335.34,193.25 335.40,193.24 335.46,193.22 335.52,193.20 335.58,193.19 335.64,193.17 335.70,193.16 335.76,193.14 335.82,193.13 336.42,192.98 337.01,192.84 337.61,192.70 338.21,192.57 338.81,192.44 339.41,192.32 340.00,192.20 340.60,192.09 341.20,191.98 341.80,191.87 342.39,191.77 342.99,191.67 343.59,191.57 344.19,191.47 344.79,191.38 345.38,191.29 345.98,191.20 346.58,191.12 347.18,191.03 347.78,190.95 348.37,190.87 348.97,190.79 349.57,190.71 350.17,190.64 350.77,190.56 351.36,190.49 351.96,190.42 352.56,190.35 353.16,190.28 353.75,190.22 354.35,190.15 354.95,190.08 355.55,190.02 356.15,189.96 356.74,189.90 357.34,189.84 357.94,189.78 358.54,189.72 359.14,189.66 359.73,189.60 360.33,189.55 360.93,189.49 361.53,189.44 362.13,189.38 362.72,189.33 363.32,189.28 363.92,189.23 364.52,189.18 365.12,189.13 365.71,189.08 366.31,189.03 366.91,188.98 367.51,188.93 368.10,188.89 368.70,188.84 369.30,188.79 369.90,188.75 370.50,188.70 371.09,188.66 371.69,188.62 372.29,188.57 372.89,188.53 373.49,188.49 374.08,188.45 374.68,188.40 375.28,188.36 375.88,188.32 376.48,188.28 377.07,188.24 377.67,188.20 378.27,188.17 378.87,188.13 379.46,188.09 380.06,188.05 380.66,188.01 381.26,187.98 381.86,187.94 382.45,187.90 383.05,187.87 383.65,187.83 384.25,187.80 384.85,187.76 385.44,187.73 386.04,187.69 386.64,187.66 387.24,187.62 387.84,187.59 388.43,187.56 389.03,187.52 389.63,187.49 390.23,187.46 390.82,187.43 391.42,187.39 392.02,187.36 392.62,187.33 393.22,187.30 393.81,187.27 394.41,187.24 395.01,187.21 395.61,187.18 396.21,187.15 396.80,187.12 397.40,187.09 398.00,187.06 398.60,187.03 399.20,187.00 399.79,186.97 400.39,186.94 400.99,186.91 401.59,186.89 402.18,186.86 402.78,186.83 403.38,186.80 403.98,186.78 404.58,186.75 405.17,186.72 405.77,186.69 406.37,186.67 406.97,186.64 407.57,186.61 408.16,186.59 408.76,186.56 409.36,186.54 409.96,186.51 410.56,186.49 411.15,186.46 411.75,186.43 412.35,186.41 412.95,186.38 413.55,186.36 414.14,186.34 414.74,186.31 415.34,186.29 415.94,186.26 416.53,186.24 417.13,186.21 417.73,186.19 418.33,186.17 418.93,186.14 419.52,186.12 420.12,186.10 420.72,186.07 421.32,186.05 421.92,186.03 422.51,186.01 423.11,185.98 423.71,185.96 424.31,185.94 424.91,185.92 425.50,185.89 426.10,185.87 426.70,185.85 427.30,185.83 427.89,185.81 428.49,185.79 429.09,185.76 429.69,185.74 430.29,185.72 430.88,185.70 431.48,185.68 432.08,185.66 432.68,185.64 433.28,185.62 433.87,185.60 434.47,185.58 435.07,185.56 435.67,185.54 436.27,185.52 436.86,185.50 437.46,185.48 438.06,185.46 438.66,185.44 439.25,185.42 439.85,185.40 440.45,185.38 441.05,185.36 441.65,185.34 442.24,185.32 442.84,185.30 443.44,185.28 444.04,185.26 444.64,185.24 445.23,185.22 445.83,185.20 446.43,185.19 447.03,185.17 447.63,185.15 448.22,185.13 448.82,185.11 449.42,185.09 450.02,185.08 450.61,185.06 451.21,185.04 451.81,185.02 452.41,185.00 453.01,184.99 453.60,184.97 454.20,184.95 454.80,184.93 455.40,184.92 456.00,184.90 456.59,184.88 457.19,184.86 457.79,184.85 458.39,184.83 458.99,184.81 459.58,184.80 460.18,184.78 460.78,184.76 461.38,184.74 461.97,184.73 462.57,184.71 463.17,184.69 463.77,184.68 464.37,184.66 464.96,184.65 465.56,184.63 466.16,184.61 466.76,184.60 467.36,184.58 467.95,184.56 468.55,184.55 469.15,184.53 469.75,184.52 470.35,184.50 470.94,184.48 471.54,184.47 472.14,184.45 472.74,184.44 473.34,184.42 473.93,184.41 474.53,184.39 475.13,184.38 475.73,184.36 476.32,184.34 476.92,184.33 477.52,184.31 478.12,184.30 478.72,184.28 479.31,184.27 479.91,184.25 480.51,184.24 481.11,184.22 481.71,184.21 482.30,184.19 482.90,184.18 483.50,184.16 484.10,184.15 484.70,184.14 485.29,184.12 485.89,184.11 486.49,184.09 487.09,184.08 487.68,184.06 488.28,184.05 488.88,184.03 489.48,184.02 490.08,184.01 490.67,183.99 491.27,183.98 491.87,183.96 492.47,183.95 493.07,183.94 493.66,183.92 494.26,183.91 494.86,183.89 495.46,183.88 496.06,183.87 496.65,183.85 497.25,183.84 497.85,183.83 498.45,183.81 499.04,183.80 499.64,183.79 500.24,183.77 500.84,183.76 501.44,183.75 502.03,183.73 502.63,183.72 503.23,183.71 503.83,183.69 504.43,183.68 505.02,183.67 505.62,183.65 506.22,183.64 506.82,183.63 507.42,183.61 508.01,183.60 508.61,183.59 509.21,183.58 509.81,183.56 510.40,183.55 511.00,183.54 511.60,183.53 512.20,183.51 512.80,183.50 513.39,183.49 513.99,183.47 514.59,183.46 515.19,183.45" fill="none" stroke="#f5a868" stroke-width="1.4" stroke-dasharray="4.5,4.7"/>
<polyline points="323.86,224.20 323.92,221.06 323.98,218.44 324.04,216.22 324.10,214.32 324.16,212.68 324.22,211.24 324.28,209.97 324.34,208.84 324.40,207.83 324.46,206.92 324.52,206.09 324.58,205.35 324.64,204.66 324.70,204.04 324.76,203.46 324.82,202.93 324.88,202.44 324.94,201.98 325.00,201.55 325.06,201.16 325.12,200.78 325.18,200.44 325.24,200.11 325.29,199.80 325.35,199.51 325.41,199.24 325.47,198.98 325.53,198.73 325.59,198.50 325.65,198.28 325.71,198.06 325.77,197.86 325.83,197.67 325.89,197.49 325.95,197.31 326.01,197.15 326.07,196.99 326.13,196.83 326.19,196.69 326.25,196.55 326.31,196.41 326.37,196.28 326.43,196.16 326.49,196.03 326.55,195.92 326.61,195.81 326.67,195.70 326.73,195.59 326.79,195.49 326.85,195.39 326.91,195.30 326.97,195.21 327.03,195.12 327.09,195.03 327.15,194.95 327.21,194.87 327.27,194.79 327.33,194.72 327.39,194.64 327.45,194.57 327.51,194.50 327.57,194.43 327.63,194.37 327.69,194.30 327.75,194.24 327.81,194.18 327.87,194.12 327.93,194.06 327.99,194.01 328.05,193.95 328.11,193.90 328.16,193.85 328.22,193.80 328.28,193.75 328.34,193.70 328.40,193.65 328.46,193.61 328.52,193.56 328.58,193.52 328.64,193.47 328.70,193.43 328.76,193.39 328.82,193.35 328.88,193.31 328.94,193.27 329.00,193.23 329.06,193.20 329.12,193.16 329.18,193.12 329.24,193.09 329.30,193.06 329.36,193.02 329.42,192.99 329.48,192.96 329.54,192.93 329.60,192.89 329.66,192.86 329.72,192.83 329.78,192.80 329.84,192.78 329.90,192.75 329.96,192.72 330.02,192.69 330.08,192.67 330.14,192.64 330.20,192.61 330.26,192.59 330.32,192.56 330.38,192.54 330.44,192.51 330.50,192.49 330.56,192.47 330.62,192.44 330.68,192.42 330.74,192.40 330.80,192.38 330.86,192.36 330.92,192.33 330.98,192.31 331.03,192.29 331.09,192.27 331.15,192.25 331.21,192.23 331.27,192.21 331.33,192.19 331.39,192.18 331.45,192.16 331.51,192.14 331.57,192.12 331.63,192.10 331.69,192.08 331.75,192.07 331.81,192.05 331.87,192.03 331.93,192.02 331.99,192.00 332.05,191.98 332.11,191.97 332.17,191.95 332.23,191.94 332.29,191.92 332.35,191.91 332.41,191.89 332.47,191.88 332.53,191.86 332.59,191.85 332.65,191.84 332.71,191.82 332.77,191.81 332.83,191.79 332.89,191.78 332.95,191.77 333.01,191.75 333.07,191.74 333.13,191.73 333.19,191.72 333.25,191.70 333.31,191.69 333.37,191.68 333.43,191.67 333.49,191.65 333.55,191.64 333.61,191.63 333.67,191.62 333.73,191.61 333.79,191.60 333.84,191.59 333.90,191.58 333.96,191.56 334.02,191.55 334.08,191.54 334.14,191.53 334.20,191.52 334.26,191.51 334.32,191.50 334.38,191.49 334.44,191.48 334.50,191.47 334.56,191.46 334.62,191.45 334.68,191.44 334.74,191.43 334.80,191.42 334.86,191.42 334.92,191.41 334.98,191.40 335.04,191.39 335.10,191.38 335.16,191.37 335.22,191.36 335.28,191.35 335.34,191.34 335.40,191.34 335.46,191.33 335.52,191.32 335.58,191.31 335.64,191.30 335.70,191.30 335.76,191.29 335.82,191.28 336.42,191.20 337.01,191.14 337.61,191.07 338.21,191.02 338.81,190.96 339.41,190.91 340.00,190.87 340.60,190.83 341.20,190.79 341.80,190.75 342.39,190.71 342.99,190.68 343.59,190.65 344.19,190.62 344.79,190.59 345.38,190.57 345.98,190.54 346.58,190.52 347.18,190.50 347.78,190.48 348.37,190.46 348.97,190.44 349.57,190.42 350.17,190.40 350.77,190.38 351.36,190.37 351.96,190.35 352.56,190.34 353.16,190.32 353.75,190.31 354.35,190.30 354.95,190.29 355.55,190.27 356.15,190.26 356.74,190.25 357.34,190.24 357.94,190.23 358.54,190.22 359.14,190.21 359.73,190.20 360.33,190.19 360.93,190.18 361.53,190.17 362.13,190.17 362.72,190.16 363.32,190.15 363.92,190.14 364.52,190.13 365.12,190.13 365.71,190.12 366.31,190.11 366.91,190.11 367.51,190.10 368.10,190.09 368.70,190.09 369.30,190.08 369.90,190.08 370.50,190.07 371.09,190.07 371.69,190.06 372.29,190.05 372.89,190.05 373.49,190.04 374.08,190.04 374.68,190.04 375.28,190.03 375.88,190.03 376.48,190.02 377.07,190.02 377.67,190.01 378.27,190.01 378.87,190.01 379.46,190.00 380.06,190.00 380.66,189.99 381.26,189.99 381.86,189.99 382.45,189.98 383.05,189.98 383.65,189.98 384.25,189.97 384.85,189.97 385.44,189.97 386.04,189.96 386.64,189.96 387.24,189.96 387.84,189.95 388.43,189.95 389.03,189.95 389.63,189.94 390.23,189.94 390.82,189.94 391.42,189.94 392.02,189.93 392.62,189.93 393.22,189.93 393.81,189.93 394.41,189.92 395.01,189.92 395.61,189.92 396.21,189.92 396.80,189.91 397.40,189.91 398.00,189.91 398.60,189.91 399.20,189.91 399.79,189.90 400.39,189.90 400.99,189.90 401.59,189.90 402.18,189.90 402.78,189.89 403.38,189.89 403.98,189.89 404.58,189.89 405.17,189.89 405.77,189.88 406.37,189.88 406.97,189.88 407.57,189.88 408.16,189.88 408.76,189.88 409.36,189.87 409.96,189.87 410.56,189.87 411.15,189.87 411.75,189.87 412.35,189.87 412.95,189.86 413.55,189.86 414.14,189.86 414.74,189.86 415.34,189.86 415.94,189.86 416.53,189.85 417.13,189.85 417.73,189.85 418.33,189.85 418.93,189.85 419.52,189.85 420.12,189.85 420.72,189.85 421.32,189.84 421.92,189.84 422.51,189.84 423.11,189.84 423.71,189.84 424.31,189.84 424.91,189.84 425.50,189.84 426.10,189.83 426.70,189.83 427.30,189.83 427.89,189.83 428.49,189.83 429.09,189.83 429.69,189.83 430.29,189.83 430.88,189.83 431.48,189.82 432.08,189.82 432.68,189.82 433.28,189.82 433.87,189.82 434.47,189.82 435.07,189.82 435.67,189.82 436.27,189.82 436.86,189.82 437.46,189.81 438.06,189.81 438.66,189.81 439.25,189.81 439.85,189.81 440.45,189.81 441.05,189.81 441.65,189.81 442.24,189.81 442.84,189.81 443.44,189.81 444.04,189.80 444.64,189.80 445.23,189.80 445.83,189.80 446.43,189.80 447.03,189.80 447.63,189.80 448.22,189.80 448.82,189.80 449.42,189.80 450.02,189.80 450.61,189.80 451.21,189.79 451.81,189.79 452.41,189.79 453.01,189.79 453.60,189.79 454.20,189.79 454.80,189.79 455.40,189.79 456.00,189.79 456.59,189.79 457.19,189.79 457.79,189.79 458.39,189.79 458.99,189.79 459.58,189.78 460.18,189.78 460.78,189.78 461.38,189.78 461.97,189.78 462.57,189.78 463.17,189.78 463.77,189.78 464.37,189.78 464.96,189.78 465.56,189.78 466.16,189.78 466.76,189.78 467.36,189.78 467.95,189.78 468.55,189.78 469.15,189.78 469.75,189.77 470.35,189.77 470.94,189.77 471.54,189.77 472.14,189.77 472.74,189.77 473.34,189.77 473.93,189.77 474.53,189.77 475.13,189.77 475.73,189.77 476.32,189.77 476.92,189.77 477.52,189.77 478.12,189.77 478.72,189.77 479.31,189.77 479.91,189.77 480.51,189.76 481.11,189.76 481.71,189.76 482.30,189.76 482.90,189.76 483.50,189.76 484.10,189.76 484.70,189.76 485.29,189.76 485.89,189.76 486.49,189.76 487.09,189.76 487.68,189.76 488.28,189.76 488.88,189.76 489.48,189.76 490.08,189.76 490.67,189.76 491.27,189.76 491.87,189.76 492.47,189.76 493.07,189.76 493.66,189.75 494.26,189.75 494.86,189.75 495.46,189.75 496.06,189.75 496.65,189.75 497.25,189.75 497.85,189.75 498.45,189.75 499.04,189.75 499.64,189.75 500.24,189.75 500.84,189.75 501.44,189.75 502.03,189.75 502.63,189.75 503.23,189.75 503.83,189.75 504.43,189.75 505.02,189.75 505.62,189.75 506.22,189.75 506.82,189.75 507.42,189.75 508.01,189.75 508.61,189.74 509.21,189.74 509.81,189.74 510.40,189.74 511.00,189.74 511.60,189.74 512.20,189.74 512.80,189.74 513.39,189.74 513.99,189.74 514.59,189.74 515.19,189.74" fill="none" stroke="#f5a868" stroke-width="1.4"/>
<circle cx="323.86" cy="224.20" r="2.1" fill="#f09a50" stroke="#b06020" stroke-width="0.75"/>
<circle cx="325.06" cy="200.21" r="2.1" fill="#f09a50" stroke="#b06020" stroke-width="0.75"/>
<circle cx="326.25" cy="199.60" r="2.1" fill="#f09a50" stroke="#b06020" stroke-width="0.75"/>
<circle cx="329.84" cy="194.72" r="2.1" fill="#f09a50" stroke="#b06020" stroke-width="0.75"/>
<circle cx="333.43" cy="191.06" r="2.1" fill="#f09a50" stroke="#b06020" stroke-width="0.75"/>
<circle cx="351.36" cy="191.06" r="2.1" fill="#f09a50" stroke="#b06020" stroke-width="0.75"/>
<circle cx="357.34" cy="190.77" r="2.1" fill="#f09a50" stroke="#b06020" stroke-width="0.75"/>
<circle cx="381.26" cy="188.27" r="2.1" fill="#f09a50" stroke="#b06020" stroke-width="0.75"/>
<circle cx="438.66" cy="195.20" r="2.1" fill="#f09a50" stroke="#b06020" stroke-width="0.75"/>
<circle cx="467.36" cy="195.20" r="2.1" fill="#f09a50" stroke="#b06020" stroke-width="0.75"/>
<circle cx="496.06" cy="197.16" r="2.1" fill="#f09a50" stroke="#b06020" stroke-width="0.75"/>
<circle cx="434.6" cy="206.80" r="2.1" fill="#f09a50" stroke="#b06020" stroke-width="0.75"/>
<text x="443.6" y="209.10" font-size="6.4" fill="#333" font-family='"Liberation Sans", sans-serif'>P1_5</text>
<line x1="428" y1="214.80" x2="441.6" y2="214.80" stroke="#f5a868" stroke-width="1.2"/>
<text x="443.6" y="217.10" font-size="6.4" fill="#333" font-family='"Liberation Sans", sans-serif'>P1_5 fitted by Langmuir</text>
<line x1="428" y1="221.60" x2="441.6" y2="221.60" stroke="#f5a868" stroke-width="1.2" stroke-dasharray="4.5,4.5"/>
<text x="443.6" y="223.90" font-size="6.4" fill="#333" font-family='"Liberation Sans", sans-serif'>P1_5 fitted by Freundlich</text>
<rect x="311.9" y="241.0" width="227.20000000000005" height="54.70" fill="none" stroke="#444444" stroke-width="1.2"/>
<line x1="308.9" y1="291.01" x2="311.9" y2="291.01" stroke="#444444" stroke-width="1"/>
<text x="306.09999999999997" y="294.01" text-anchor="end" font-size="7.9" fill="#222222" stroke="#222222" stroke-width="0.15" font-family='"Liberation Sans", sans-serif'>0</text>
<line x1="310.09999999999997" y1="284.76" x2="311.9" y2="284.76" stroke="#444444" stroke-width="1"/>
<line x1="308.9" y1="278.51" x2="311.9" y2="278.51" stroke="#444444" stroke-width="1"/>
<text x="306.09999999999997" y="281.51" text-anchor="end" font-size="7.9" fill="#222222" stroke="#222222" stroke-width="0.15" font-family='"Liberation Sans", sans-serif'>80</text>
<line x1="310.09999999999997" y1="272.26" x2="311.9" y2="272.26" stroke="#444444" stroke-width="1"/>
<line x1="308.9" y1="266.01" x2="311.9" y2="266.01" stroke="#444444" stroke-width="1"/>
<text x="306.09999999999997" y="269.01" text-anchor="end" font-size="7.9" fill="#222222" stroke="#222222" stroke-width="0.15" font-family='"Liberation Sans", sans-serif'>160</text>
<line x1="310.09999999999997" y1="259.75" x2="311.9" y2="259.75" stroke="#444444" stroke-width="1"/>
<line x1="308.9" y1="253.50" x2="311.9" y2="253.50" stroke="#444444" stroke-width="1"/>
<text x="306.09999999999997" y="256.50" text-anchor="end" font-size="7.9" fill="#222222" stroke="#222222" stroke-width="0.15" font-family='"Liberation Sans", sans-serif'>240</text>
<line x1="310.09999999999997" y1="247.25" x2="311.9" y2="247.25" stroke="#444444" stroke-width="1"/>
<line x1="308.9" y1="241.00" x2="311.9" y2="241.00" stroke="#444444" stroke-width="1"/>
<text x="306.09999999999997" y="244.00" text-anchor="end" font-size="7.9" fill="#222222" stroke="#222222" stroke-width="0.15" font-family='"Liberation Sans", sans-serif'>320</text>
<line x1="311.90" y1="295.70" x2="311.90" y2="297.50" stroke="#444444" stroke-width="1"/>
<line x1="323.86" y1="295.70" x2="323.86" y2="298.70" stroke="#444444" stroke-width="1"/>
<line x1="335.82" y1="295.70" x2="335.82" y2="297.50" stroke="#444444" stroke-width="1"/>
<line x1="347.78" y1="295.70" x2="347.78" y2="298.70" stroke="#444444" stroke-width="1"/>
<line x1="359.73" y1="295.70" x2="359.73" y2="297.50" stroke="#444444" stroke-width="1"/>
<line x1="371.69" y1="295.70" x2="371.69" y2="298.70" stroke="#444444" stroke-width="1"/>
<line x1="383.65" y1="295.70" x2="383.65" y2="297.50" stroke="#444444" stroke-width="1"/>
<line x1="395.61" y1="295.70" x2="395.61" y2="298.70" stroke="#444444" stroke-width="1"/>
<line x1="407.57" y1="295.70" x2="407.57" y2="297.50" stroke="#444444" stroke-width="1"/>
<line x1="419.52" y1="295.70" x2="419.52" y2="298.70" stroke="#444444" stroke-width="1"/>
<line x1="431.48" y1="295.70" x2="431.48" y2="297.50" stroke="#444444" stroke-width="1"/>
<line x1="443.44" y1="295.70" x2="443.44" y2="298.70" stroke="#444444" stroke-width="1"/>
<line x1="455.40" y1="295.70" x2="455.40" y2="297.50" stroke="#444444" stroke-width="1"/>
<line x1="467.36" y1="295.70" x2="467.36" y2="298.70" stroke="#444444" stroke-width="1"/>
<line x1="479.31" y1="295.70" x2="479.31" y2="297.50" stroke="#444444" stroke-width="1"/>
<line x1="491.27" y1="295.70" x2="491.27" y2="298.70" stroke="#444444" stroke-width="1"/>
<line x1="503.23" y1="295.70" x2="503.23" y2="297.50" stroke="#444444" stroke-width="1"/>
<line x1="515.19" y1="295.70" x2="515.19" y2="298.70" stroke="#444444" stroke-width="1"/>
<line x1="527.15" y1="295.70" x2="527.15" y2="297.50" stroke="#444444" stroke-width="1"/>
<line x1="539.10" y1="295.70" x2="539.10" y2="298.70" stroke="#444444" stroke-width="1"/>
<text x="531.6" y="256.30" text-anchor="middle" font-size="13.3" fill="#111" stroke="#111" stroke-width="0.2" font-family='"Liberation Sans", sans-serif'>d</text>
<polyline points="323.86,291.01 323.92,271.73 323.98,270.39 324.04,269.56 324.10,268.95 324.16,268.47 324.22,268.07 324.28,267.72 324.34,267.42 324.40,267.15 324.46,266.90 324.52,266.68 324.58,266.47 324.64,266.28 324.70,266.10 324.76,265.93 324.82,265.78 324.88,265.63 324.94,265.49 325.00,265.35 325.06,265.22 325.12,265.10 325.18,264.98 325.24,264.87 325.29,264.76 325.35,264.66 325.41,264.56 325.47,264.46 325.53,264.37 325.59,264.28 325.65,264.19 325.71,264.10 325.77,264.02 325.83,263.94 325.89,263.86 325.95,263.79 326.01,263.71 326.07,263.64 326.13,263.57 326.19,263.50 326.25,263.43 326.31,263.36 326.37,263.30 326.43,263.24 326.49,263.17 326.55,263.11 326.61,263.05 326.67,263.00 326.73,262.94 326.79,262.88 326.85,262.83 326.91,262.77 326.97,262.72 327.03,262.67 327.09,262.62 327.15,262.57 327.21,262.52 327.27,262.47 327.33,262.42 327.39,262.37 327.45,262.32 327.51,262.28 327.57,262.23 327.63,262.19 327.69,262.14 327.75,262.10 327.81,262.06 327.87,262.02 327.93,261.97 327.99,261.93 328.05,261.89 328.11,261.85 328.16,261.81 328.22,261.77 328.28,261.73 328.34,261.70 328.40,261.66 328.46,261.62 328.52,261.59 328.58,261.55 328.64,261.51 328.70,261.48 328.76,261.44 328.82,261.41 328.88,261.37 328.94,261.34 329.00,261.31 329.06,261.27 329.12,261.24 329.18,261.21 329.24,261.17 329.30,261.14 329.36,261.11 329.42,261.08 329.48,261.05 329.54,261.02 329.60,260.99 329.66,260.96 329.72,260.93 329.78,260.90 329.84,260.87 329.90,260.84 329.96,260.81 330.02,260.78 330.08,260.75 330.14,260.72 330.20,260.70 330.26,260.67 330.32,260.64 330.38,260.61 330.44,260.59 330.50,260.56 330.56,260.53 330.62,260.51 330.68,260.48 330.74,260.46 330.80,260.43 330.86,260.40 330.92,260.38 330.98,260.35 331.03,260.33 331.09,260.30 331.15,260.28 331.21,260.26 331.27,260.23 331.33,260.21 331.39,260.18 331.45,260.16 331.51,260.14 331.57,260.11 331.63,260.09 331.69,260.07 331.75,260.04 331.81,260.02 331.87,260.00 331.93,259.98 331.99,259.95 332.05,259.93 332.11,259.91 332.17,259.89 332.23,259.87 332.29,259.85 332.35,259.82 332.41,259.80 332.47,259.78 332.53,259.76 332.59,259.74 332.65,259.72 332.71,259.70 332.77,259.68 332.83,259.66 332.89,259.64 332.95,259.62 333.01,259.60 333.07,259.58 333.13,259.56 333.19,259.54 333.25,259.52 333.31,259.50 333.37,259.48 333.43,259.46 333.49,259.44 333.55,259.42 333.61,259.40 333.67,259.39 333.73,259.37 333.79,259.35 333.84,259.33 333.90,259.31 333.96,259.29 334.02,259.28 334.08,259.26 334.14,259.24 334.20,259.22 334.26,259.20 334.32,259.19 334.38,259.17 334.44,259.15 334.50,259.13 334.56,259.12 334.62,259.10 334.68,259.08 334.74,259.06 334.80,259.05 334.86,259.03 334.92,259.01 334.98,259.00 335.04,258.98 335.10,258.96 335.16,258.95 335.22,258.93 335.28,258.91 335.34,258.90 335.40,258.88 335.46,258.87 335.52,258.85 335.58,258.83 335.64,258.82 335.70,258.80 335.76,258.79 335.82,258.77 336.42,258.62 337.01,258.47 337.61,258.33 338.21,258.20 338.81,258.07 339.41,257.94 340.00,257.82 340.60,257.70 341.20,257.59 341.80,257.48 342.39,257.37 342.99,257.27 343.59,257.17 344.19,257.07 344.79,256.97 345.38,256.88 345.98,256.79 346.58,256.70 347.18,256.61 347.78,256.53 348.37,256.45 348.97,256.36 349.57,256.29 350.17,256.21 350.77,256.13 351.36,256.06 351.96,255.98 352.56,255.91 353.16,255.84 353.75,255.77 354.35,255.71 354.95,255.64 355.55,255.57 356.15,255.51 356.74,255.45 357.34,255.38 357.94,255.32 358.54,255.26 359.14,255.20 359.73,255.15 360.33,255.09 360.93,255.03 361.53,254.98 362.13,254.92 362.72,254.87 363.32,254.81 363.92,254.76 364.52,254.71 365.12,254.66 365.71,254.61 366.31,254.55 366.91,254.51 367.51,254.46 368.10,254.41 368.70,254.36 369.30,254.31 369.90,254.27 370.50,254.22 371.09,254.18 371.69,254.13 372.29,254.09 372.89,254.04 373.49,254.00 374.08,253.96 374.68,253.91 375.28,253.87 375.88,253.83 376.48,253.79 377.07,253.75 377.67,253.71 378.27,253.67 378.87,253.63 379.46,253.59 380.06,253.55 380.66,253.51 381.26,253.47 381.86,253.43 382.45,253.40 383.05,253.36 383.65,253.32 384.25,253.29 384.85,253.25 385.44,253.22 386.04,253.18 386.64,253.14 387.24,253.11 387.84,253.08 388.43,253.04 389.03,253.01 389.63,252.97 390.23,252.94 390.82,252.91 391.42,252.87 392.02,252.84 392.62,252.81 393.22,252.78 393.81,252.75 394.41,252.71 395.01,252.68 395.61,252.65 396.21,252.62 396.80,252.59 397.40,252.56 398.00,252.53 398.60,252.50 399.20,252.47 399.79,252.44 400.39,252.41 400.99,252.38 401.59,252.35 402.18,252.32 402.78,252.29 403.38,252.27 403.98,252.24 404.58,252.21 405.17,252.18 405.77,252.15 406.37,252.13 406.97,252.10 407.57,252.07 408.16,252.05 408.76,252.02 409.36,251.99 409.96,251.97 410.56,251.94 411.15,251.91 411.75,251.89 412.35,251.86 412.95,251.84 413.55,251.81 414.14,251.79 414.74,251.76 415.34,251.74 415.94,251.71 416.53,251.69 417.13,251.66 417.73,251.64 418.33,251.61 418.93,251.59 419.52,251.57 420.12,251.54 420.72,251.52 421.32,251.49 421.92,251.47 422.51,251.45 423.11,251.42 423.71,251.40 424.31,251.38 424.91,251.36 425.50,251.33 426.10,251.31 426.70,251.29 427.30,251.27 427.89,251.24 428.49,251.22 429.09,251.20 429.69,251.18 430.29,251.16 430.88,251.13 431.48,251.11 432.08,251.09 432.68,251.07 433.28,251.05 433.87,251.03 434.47,251.01 435.07,250.99 435.67,250.96 436.27,250.94 436.86,250.92 437.46,250.90 438.06,250.88 438.66,250.86 439.25,250.84 439.85,250.82 440.45,250.80 441.05,250.78 441.65,250.76 442.24,250.74 442.84,250.72 443.44,250.70 444.04,250.68 444.64,250.66 445.23,250.64 445.83,250.62 446.43,250.61 447.03,250.59 447.63,250.57 448.22,250.55 448.82,250.53 449.42,250.51 450.02,250.49 450.61,250.47 451.21,250.46 451.81,250.44 452.41,250.42 453.01,250.40 453.60,250.38 454.20,250.36 454.80,250.35 455.40,250.33 456.00,250.31 456.59,250.29 457.19,250.27 457.79,250.26 458.39,250.24 458.99,250.22 459.58,250.20 460.18,250.19 460.78,250.17 461.38,250.15 461.97,250.13 462.57,250.12 463.17,250.10 463.77,250.08 464.37,250.07 464.96,250.05 465.56,250.03 466.16,250.02 466.76,250.00 467.36,249.98 467.95,249.97 468.55,249.95 469.15,249.93 469.75,249.92 470.35,249.90 470.94,249.88 471.54,249.87 472.14,249.85 472.74,249.84 473.34,249.82 473.93,249.80 474.53,249.79 475.13,249.77 475.73,249.76 476.32,249.74 476.92,249.73 477.52,249.71 478.12,249.69 478.72,249.68 479.31,249.66 479.91,249.65 480.51,249.63 481.11,249.62 481.71,249.60 482.30,249.59 482.90,249.57 483.50,249.56 484.10,249.54 484.70,249.53 485.29,249.51 485.89,249.50 486.49,249.48 487.09,249.47 487.68,249.45 488.28,249.44 488.88,249.42 489.48,249.41 490.08,249.39 490.67,249.38 491.27,249.37 491.87,249.35 492.47,249.34 493.07,249.32 493.66,249.31 494.26,249.29 494.86,249.28 495.46,249.27 496.06,249.25 496.65,249.24 497.25,249.22 497.85,249.21 498.45,249.20 499.04,249.18 499.64,249.17 500.24,249.15 500.84,249.14 501.44,249.13 502.03,249.11 502.63,249.10 503.23,249.09 503.83,249.07 504.43,249.06 505.02,249.04 505.62,249.03 506.22,249.02 506.82,249.00 507.42,248.99 508.01,248.98 508.61,248.96 509.21,248.95 509.81,248.94 510.40,248.93 511.00,248.91 511.60,248.90 512.20,248.89 512.80,248.87 513.39,248.86 513.99,248.85 514.59,248.83 515.19,248.82" fill="none" stroke="#f07a60" stroke-width="1.4" stroke-dasharray="4.5,4.7"/>
<polyline points="323.86,291.01 323.92,287.86 323.98,285.23 324.04,283.00 324.10,281.10 324.16,279.45 324.22,278.00 324.28,276.73 324.34,275.59 324.40,274.58 324.46,273.66 324.52,272.84 324.58,272.09 324.64,271.40 324.70,270.77 324.76,270.19 324.82,269.66 324.88,269.17 324.94,268.71 325.00,268.28 325.06,267.88 325.12,267.51 325.18,267.16 325.24,266.83 325.29,266.52 325.35,266.23 325.41,265.95 325.47,265.69 325.53,265.45 325.59,265.21 325.65,264.99 325.71,264.78 325.77,264.58 325.83,264.38 325.89,264.20 325.95,264.03 326.01,263.86 326.07,263.70 326.13,263.54 326.19,263.40 326.25,263.26 326.31,263.12 326.37,262.99 326.43,262.86 326.49,262.74 326.55,262.62 326.61,262.51 326.67,262.40 326.73,262.30 326.79,262.20 326.85,262.10 326.91,262.00 326.97,261.91 327.03,261.82 327.09,261.74 327.15,261.65 327.21,261.57 327.27,261.49 327.33,261.42 327.39,261.34 327.45,261.27 327.51,261.20 327.57,261.13 327.63,261.07 327.69,261.00 327.75,260.94 327.81,260.88 327.87,260.82 327.93,260.76 327.99,260.71 328.05,260.65 328.11,260.60 328.16,260.55 328.22,260.50 328.28,260.45 328.34,260.40 328.40,260.35 328.46,260.30 328.52,260.26 328.58,260.21 328.64,260.17 328.70,260.13 328.76,260.09 328.82,260.05 328.88,260.01 328.94,259.97 329.00,259.93 329.06,259.89 329.12,259.86 329.18,259.82 329.24,259.79 329.30,259.75 329.36,259.72 329.42,259.68 329.48,259.65 329.54,259.62 329.60,259.59 329.66,259.56 329.72,259.53 329.78,259.50 329.84,259.47 329.90,259.44 329.96,259.41 330.02,259.39 330.08,259.36 330.14,259.33 330.20,259.31 330.26,259.28 330.32,259.26 330.38,259.23 330.44,259.21 330.50,259.18 330.56,259.16 330.62,259.14 330.68,259.11 330.74,259.09 330.80,259.07 330.86,259.05 330.92,259.03 330.98,259.01 331.03,258.98 331.09,258.96 331.15,258.94 331.21,258.92 331.27,258.91 331.33,258.89 331.39,258.87 331.45,258.85 331.51,258.83 331.57,258.81 331.63,258.79 331.69,258.78 331.75,258.76 331.81,258.74 331.87,258.73 331.93,258.71 331.99,258.69 332.05,258.68 332.11,258.66 332.17,258.64 332.23,258.63 332.29,258.61 332.35,258.60 332.41,258.58 332.47,258.57 332.53,258.55 332.59,258.54 332.65,258.53 332.71,258.51 332.77,258.50 332.83,258.48 332.89,258.47 332.95,258.46 333.01,258.44 333.07,258.43 333.13,258.42 333.19,258.41 333.25,258.39 333.31,258.38 333.37,258.37 333.43,258.36 333.49,258.34 333.55,258.33 333.61,258.32 333.67,258.31 333.73,258.30 333.79,258.29 333.84,258.28 333.90,258.27 333.96,258.25 334.02,258.24 334.08,258.23 334.14,258.22 334.20,258.21 334.26,258.20 334.32,258.19 334.38,258.18 334.44,258.17 334.50,258.16 334.56,258.15 334.62,258.14 334.68,258.13 334.74,258.12 334.80,258.11 334.86,258.10 334.92,258.10 334.98,258.09 335.04,258.08 335.10,258.07 335.16,258.06 335.22,258.05 335.28,258.04 335.34,258.03 335.40,258.03 335.46,258.02 335.52,258.01 335.58,258.00 335.64,257.99 335.70,257.98 335.76,257.98 335.82,257.97 336.42,257.89 337.01,257.82 337.61,257.76 338.21,257.70 338.81,257.65 339.41,257.60 340.00,257.56 340.60,257.51 341.20,257.47 341.80,257.44 342.39,257.40 342.99,257.37 343.59,257.34 344.19,257.31 344.79,257.28 345.38,257.25 345.98,257.23 346.58,257.21 347.18,257.18 347.78,257.16 348.37,257.14 348.97,257.12 349.57,257.10 350.17,257.09 350.77,257.07 351.36,257.05 351.96,257.04 352.56,257.02 353.16,257.01 353.75,257.00 354.35,256.98 354.95,256.97 355.55,256.96 356.15,256.95 356.74,256.94 357.34,256.92 357.94,256.91 358.54,256.90 359.14,256.89 359.73,256.88 360.33,256.88 360.93,256.87 361.53,256.86 362.13,256.85 362.72,256.84 363.32,256.83 363.92,256.83 364.52,256.82 365.12,256.81 365.71,256.80 366.31,256.80 366.91,256.79 367.51,256.78 368.10,256.78 368.70,256.77 369.30,256.77 369.90,256.76 370.50,256.76 371.09,256.75 371.69,256.74 372.29,256.74 372.89,256.73 373.49,256.73 374.08,256.72 374.68,256.72 375.28,256.71 375.88,256.71 376.48,256.71 377.07,256.70 377.67,256.70 378.27,256.69 378.87,256.69 379.46,256.69 380.06,256.68 380.66,256.68 381.26,256.67 381.86,256.67 382.45,256.67 383.05,256.66 383.65,256.66 384.25,256.66 384.85,256.65 385.44,256.65 386.04,256.65 386.64,256.64 387.24,256.64 387.84,256.64 388.43,256.63 389.03,256.63 389.63,256.63 390.23,256.63 390.82,256.62 391.42,256.62 392.02,256.62 392.62,256.62 393.22,256.61 393.81,256.61 394.41,256.61 395.01,256.61 395.61,256.60 396.21,256.60 396.80,256.60 397.40,256.60 398.00,256.59 398.60,256.59 399.20,256.59 399.79,256.59 400.39,256.58 400.99,256.58 401.59,256.58 402.18,256.58 402.78,256.58 403.38,256.57 403.98,256.57 404.58,256.57 405.17,256.57 405.77,256.57 406.37,256.57 406.97,256.56 407.57,256.56 408.16,256.56 408.76,256.56 409.36,256.56 409.96,256.56 410.56,256.55 411.15,256.55 411.75,256.55 412.35,256.55 412.95,256.55 413.55,256.55 414.14,256.54 414.74,256.54 415.34,256.54 415.94,256.54 416.53,256.54 417.13,256.54 417.73,256.54 418.33,256.53 418.93,256.53 419.52,256.53 420.12,256.53 420.72,256.53 421.32,256.53 421.92,256.53 422.51,256.53 423.11,256.52 423.71,256.52 424.31,256.52 424.91,256.52 425.50,256.52 426.10,256.52 426.70,256.52 427.30,256.52 427.89,256.51 428.49,256.51 429.09,256.51 429.69,256.51 430.29,256.51 430.88,256.51 431.48,256.51 432.08,256.51 432.68,256.51 433.28,256.50 433.87,256.50 434.47,256.50 435.07,256.50 435.67,256.50 436.27,256.50 436.86,256.50 437.46,256.50 438.06,256.50 438.66,256.50 439.25,256.49 439.85,256.49 440.45,256.49 441.05,256.49 441.65,256.49 442.24,256.49 442.84,256.49 443.44,256.49 444.04,256.49 444.64,256.49 445.23,256.49 445.83,256.49 446.43,256.48 447.03,256.48 447.63,256.48 448.22,256.48 448.82,256.48 449.42,256.48 450.02,256.48 450.61,256.48 451.21,256.48 451.81,256.48 452.41,256.48 453.01,256.48 453.60,256.48 454.20,256.47 454.80,256.47 455.40,256.47 456.00,256.47 456.59,256.47 457.19,256.47 457.79,256.47 458.39,256.47 458.99,256.47 459.58,256.47 460.18,256.47 460.78,256.47 461.38,256.47 461.97,256.47 462.57,256.46 463.17,256.46 463.77,256.46 464.37,256.46 464.96,256.46 465.56,256.46 466.16,256.46 466.76,256.46 467.36,256.46 467.95,256.46 468.55,256.46 469.15,256.46 469.75,256.46 470.35,256.46 470.94,256.46 471.54,256.46 472.14,256.46 472.74,256.45 473.34,256.45 473.93,256.45 474.53,256.45 475.13,256.45 475.73,256.45 476.32,256.45 476.92,256.45 477.52,256.45 478.12,256.45 478.72,256.45 479.31,256.45 479.91,256.45 480.51,256.45 481.11,256.45 481.71,256.45 482.30,256.45 482.90,256.45 483.50,256.45 484.10,256.44 484.70,256.44 485.29,256.44 485.89,256.44 486.49,256.44 487.09,256.44 487.68,256.44 488.28,256.44 488.88,256.44 489.48,256.44 490.08,256.44 490.67,256.44 491.27,256.44 491.87,256.44 492.47,256.44 493.07,256.44 493.66,256.44 494.26,256.44 494.86,256.44 495.46,256.44 496.06,256.44 496.65,256.44 497.25,256.44 497.85,256.43 498.45,256.43 499.04,256.43 499.64,256.43 500.24,256.43 500.84,256.43 501.44,256.43 502.03,256.43 502.63,256.43 503.23,256.43 503.83,256.43 504.43,256.43 505.02,256.43 505.62,256.43 506.22,256.43 506.82,256.43 507.42,256.43 508.01,256.43 508.61,256.43 509.21,256.43 509.81,256.43 510.40,256.43 511.00,256.43 511.60,256.43 512.20,256.43 512.80,256.43 513.39,256.43 513.99,256.42 514.59,256.42 515.19,256.42" fill="none" stroke="#f07a60" stroke-width="1.4"/>
<circle cx="323.86" cy="291.01" r="2.1" fill="#e8603a" stroke="#a83818" stroke-width="0.75"/>
<circle cx="325.06" cy="264.91" r="2.1" fill="#e8603a" stroke="#a83818" stroke-width="0.75"/>
<circle cx="326.25" cy="264.29" r="2.1" fill="#e8603a" stroke="#a83818" stroke-width="0.75"/>
<circle cx="329.84" cy="261.16" r="2.1" fill="#e8603a" stroke="#a83818" stroke-width="0.75"/>
<circle cx="333.43" cy="257.41" r="2.1" fill="#e8603a" stroke="#a83818" stroke-width="0.75"/>
<circle cx="351.36" cy="256.94" r="2.1" fill="#e8603a" stroke="#a83818" stroke-width="0.75"/>
<circle cx="357.34" cy="256.32" r="2.1" fill="#e8603a" stroke="#a83818" stroke-width="0.75"/>
<circle cx="381.26" cy="261.32" r="2.1" fill="#e8603a" stroke="#a83818" stroke-width="0.75"/>
<circle cx="438.66" cy="263.04" r="2.1" fill="#e8603a" stroke="#a83818" stroke-width="0.75"/>
<circle cx="467.36" cy="263.04" r="2.1" fill="#e8603a" stroke="#a83818" stroke-width="0.75"/>
<circle cx="496.06" cy="263.04" r="2.1" fill="#e8603a" stroke="#a83818" stroke-width="0.75"/>
<circle cx="434" cy="274.20" r="2.1" fill="#e8603a" stroke="#a83818" stroke-width="0.75"/>
<text x="442.4" y="276.50" font-size="6.4" fill="#333" font-family='"Liberation Sans", sans-serif'>P2</text>
<line x1="427" y1="281.40" x2="440.4" y2="281.40" stroke="#f07a60" stroke-width="1.2"/>
<text x="442.4" y="283.70" font-size="6.4" fill="#333" font-family='"Liberation Sans", sans-serif'>P2 fitted by Langmuir</text>
<line x1="427" y1="288.80" x2="440.4" y2="288.80" stroke="#f07a60" stroke-width="1.2" stroke-dasharray="4.5,4.5"/>
<text x="442.4" y="291.10" font-size="6.4" fill="#333" font-family='"Liberation Sans", sans-serif'>P2 fitted by Freundlich</text>
<rect x="311.9" y="306.3" width="227.20000000000005" height="54.90" fill="none" stroke="#444444" stroke-width="1.2"/>
<line x1="310.09999999999997" y1="361.20" x2="311.9" y2="361.20" stroke="#444444" stroke-width="1"/>
<line x1="308.9" y1="355.71" x2="311.9" y2="355.71" stroke="#444444" stroke-width="1"/>
<text x="306.09999999999997" y="358.71" text-anchor="end" font-size="7.9" fill="#222222" stroke="#222222" stroke-width="0.15" font-family='"Liberation Sans", sans-serif'>0</text>
<line x1="310.09999999999997" y1="350.22" x2="311.9" y2="350.22" stroke="#444444" stroke-width="1"/>
<line x1="308.9" y1="344.73" x2="311.9" y2="344.73" stroke="#444444" stroke-width="1"/>
<text x="306.09999999999997" y="347.73" text-anchor="end" font-size="7.9" fill="#222222" stroke="#222222" stroke-width="0.15" font-family='"Liberation Sans", sans-serif'>100</text>
<line x1="310.09999999999997" y1="339.24" x2="311.9" y2="339.24" stroke="#444444" stroke-width="1"/>
<line x1="308.9" y1="333.75" x2="311.9" y2="333.75" stroke="#444444" stroke-width="1"/>
<text x="306.09999999999997" y="336.75" text-anchor="end" font-size="7.9" fill="#222222" stroke="#222222" stroke-width="0.15" font-family='"Liberation Sans", sans-serif'>200</text>
<line x1="310.09999999999997" y1="328.26" x2="311.9" y2="328.26" stroke="#444444" stroke-width="1"/>
<line x1="308.9" y1="322.77" x2="311.9" y2="322.77" stroke="#444444" stroke-width="1"/>
<text x="306.09999999999997" y="325.77" text-anchor="end" font-size="7.9" fill="#222222" stroke="#222222" stroke-width="0.15" font-family='"Liberation Sans", sans-serif'>300</text>
<line x1="310.09999999999997" y1="317.28" x2="311.9" y2="317.28" stroke="#444444" stroke-width="1"/>
<line x1="308.9" y1="311.79" x2="311.9" y2="311.79" stroke="#444444" stroke-width="1"/>
<text x="306.09999999999997" y="314.79" text-anchor="end" font-size="7.9" fill="#222222" stroke="#222222" stroke-width="0.15" font-family='"Liberation Sans", sans-serif'>400</text>
<line x1="310.09999999999997" y1="306.30" x2="311.9" y2="306.30" stroke="#444444" stroke-width="1"/>
<line x1="311.90" y1="361.20" x2="311.90" y2="363.00" stroke="#444444" stroke-width="1"/>
<line x1="323.86" y1="361.20" x2="323.86" y2="364.20" stroke="#444444" stroke-width="1"/>
<line x1="335.82" y1="361.20" x2="335.82" y2="363.00" stroke="#444444" stroke-width="1"/>
<line x1="347.78" y1="361.20" x2="347.78" y2="364.20" stroke="#444444" stroke-width="1"/>
<line x1="359.73" y1="361.20" x2="359.73" y2="363.00" stroke="#444444" stroke-width="1"/>
<line x1="371.69" y1="361.20" x2="371.69" y2="364.20" stroke="#444444" stroke-width="1"/>
<line x1="383.65" y1="361.20" x2="383.65" y2="363.00" stroke="#444444" stroke-width="1"/>
<line x1="395.61" y1="361.20" x2="395.61" y2="364.20" stroke="#444444" stroke-width="1"/>
<line x1="407.57" y1="361.20" x2="407.57" y2="363.00" stroke="#444444" stroke-width="1"/>
<line x1="419.52" y1="361.20" x2="419.52" y2="364.20" stroke="#444444" stroke-width="1"/>
<line x1="431.48" y1="361.20" x2="431.48" y2="363.00" stroke="#444444" stroke-width="1"/>
<line x1="443.44" y1="361.20" x2="443.44" y2="364.20" stroke="#444444" stroke-width="1"/>
<line x1="455.40" y1="361.20" x2="455.40" y2="363.00" stroke="#444444" stroke-width="1"/>
<line x1="467.36" y1="361.20" x2="467.36" y2="364.20" stroke="#444444" stroke-width="1"/>
<line x1="479.31" y1="361.20" x2="479.31" y2="363.00" stroke="#444444" stroke-width="1"/>
<line x1="491.27" y1="361.20" x2="491.27" y2="364.20" stroke="#444444" stroke-width="1"/>
<line x1="503.23" y1="361.20" x2="503.23" y2="363.00" stroke="#444444" stroke-width="1"/>
<line x1="515.19" y1="361.20" x2="515.19" y2="364.20" stroke="#444444" stroke-width="1"/>
<line x1="527.15" y1="361.20" x2="527.15" y2="363.00" stroke="#444444" stroke-width="1"/>
<line x1="539.10" y1="361.20" x2="539.10" y2="364.20" stroke="#444444" stroke-width="1"/>
<text x="532.2" y="321.60" text-anchor="middle" font-size="13.3" fill="#111" stroke="#111" stroke-width="0.2" font-family='"Liberation Sans", sans-serif'>e</text>
<polyline points="323.86,355.71 323.92,333.11 323.98,331.81 324.04,331.02 324.10,330.44 324.16,329.98 324.22,329.60 324.28,329.27 324.34,328.99 324.40,328.73 324.46,328.50 324.52,328.29 324.58,328.10 324.64,327.92 324.70,327.76 324.76,327.60 324.82,327.45 324.88,327.32 324.94,327.19 325.00,327.06 325.06,326.94 325.12,326.83 325.18,326.72 325.24,326.62 325.29,326.52 325.35,326.42 325.41,326.33 325.47,326.24 325.53,326.15 325.59,326.07 325.65,325.99 325.71,325.91 325.77,325.83 325.83,325.76 325.89,325.69 325.95,325.62 326.01,325.55 326.07,325.48 326.13,325.42 326.19,325.35 326.25,325.29 326.31,325.23 326.37,325.17 326.43,325.11 326.49,325.06 326.55,325.00 326.61,324.95 326.67,324.89 326.73,324.84 326.79,324.79 326.85,324.74 326.91,324.69 326.97,324.64 327.03,324.59 327.09,324.55 327.15,324.50 327.21,324.46 327.27,324.41 327.33,324.37 327.39,324.32 327.45,324.28 327.51,324.24 327.57,324.20 327.63,324.16 327.69,324.12 327.75,324.08 327.81,324.04 327.87,324.00 327.93,323.96 327.99,323.93 328.05,323.89 328.11,323.85 328.16,323.82 328.22,323.78 328.28,323.75 328.34,323.71 328.40,323.68 328.46,323.64 328.52,323.61 328.58,323.58 328.64,323.55 328.70,323.51 328.76,323.48 328.82,323.45 328.88,323.42 328.94,323.39 329.00,323.36 329.06,323.33 329.12,323.30 329.18,323.27 329.24,323.24 329.30,323.21 329.36,323.18 329.42,323.15 329.48,323.13 329.54,323.10 329.60,323.07 329.66,323.04 329.72,323.02 329.78,322.99 329.84,322.96 329.90,322.94 329.96,322.91 330.02,322.89 330.08,322.86 330.14,322.83 330.20,322.81 330.26,322.78 330.32,322.76 330.38,322.74 330.44,322.71 330.50,322.69 330.56,322.66 330.62,322.64 330.68,322.62 330.74,322.59 330.80,322.57 330.86,322.55 330.92,322.52 330.98,322.50 331.03,322.48 331.09,322.46 331.15,322.43 331.21,322.41 331.27,322.39 331.33,322.37 331.39,322.35 331.45,322.33 331.51,322.31 331.57,322.28 331.63,322.26 331.69,322.24 331.75,322.22 331.81,322.20 331.87,322.18 331.93,322.16 331.99,322.14 332.05,322.12 332.11,322.10 332.17,322.08 332.23,322.06 332.29,322.04 332.35,322.03 332.41,322.01 332.47,321.99 332.53,321.97 332.59,321.95 332.65,321.93 332.71,321.91 332.77,321.89 332.83,321.88 332.89,321.86 332.95,321.84 333.01,321.82 333.07,321.80 333.13,321.79 333.19,321.77 333.25,321.75 333.31,321.73 333.37,321.72 333.43,321.70 333.49,321.68 333.55,321.67 333.61,321.65 333.67,321.63 333.73,321.62 333.79,321.60 333.84,321.58 333.90,321.57 333.96,321.55 334.02,321.53 334.08,321.52 334.14,321.50 334.20,321.49 334.26,321.47 334.32,321.45 334.38,321.44 334.44,321.42 334.50,321.41 334.56,321.39 334.62,321.38 334.68,321.36 334.74,321.35 334.80,321.33 334.86,321.32 334.92,321.30 334.98,321.29 335.04,321.27 335.10,321.26 335.16,321.24 335.22,321.23 335.28,321.21 335.34,321.20 335.40,321.18 335.46,321.17 335.52,321.15 335.58,321.14 335.64,321.13 335.70,321.11 335.76,321.10 335.82,321.08 336.42,320.95 337.01,320.82 337.61,320.69 338.21,320.57 338.81,320.46 339.41,320.34 340.00,320.24 340.60,320.13 341.20,320.03 341.80,319.94 342.39,319.84 342.99,319.75 343.59,319.66 344.19,319.57 344.79,319.49 345.38,319.41 345.98,319.33 346.58,319.25 347.18,319.17 347.78,319.10 348.37,319.02 348.97,318.95 349.57,318.88 350.17,318.81 350.77,318.75 351.36,318.68 351.96,318.62 352.56,318.56 353.16,318.49 353.75,318.43 354.35,318.37 354.95,318.32 355.55,318.26 356.15,318.20 356.74,318.15 357.34,318.09 357.94,318.04 358.54,317.99 359.14,317.93 359.73,317.88 360.33,317.83 360.93,317.78 361.53,317.73 362.13,317.69 362.72,317.64 363.32,317.59 363.92,317.54 364.52,317.50 365.12,317.45 365.71,317.41 366.31,317.37 366.91,317.32 367.51,317.28 368.10,317.24 368.70,317.20 369.30,317.16 369.90,317.11 370.50,317.07 371.09,317.04 371.69,317.00 372.29,316.96 372.89,316.92 373.49,316.88 374.08,316.84 374.68,316.81 375.28,316.77 375.88,316.73 376.48,316.70 377.07,316.66 377.67,316.63 378.27,316.59 378.87,316.56 379.46,316.52 380.06,316.49 380.66,316.46 381.26,316.42 381.86,316.39 382.45,316.36 383.05,316.33 383.65,316.29 384.25,316.26 384.85,316.23 385.44,316.20 386.04,316.17 386.64,316.14 387.24,316.11 387.84,316.08 388.43,316.05 389.03,316.02 389.63,315.99 390.23,315.96 390.82,315.93 391.42,315.90 392.02,315.88 392.62,315.85 393.22,315.82 393.81,315.79 394.41,315.77 395.01,315.74 395.61,315.71 396.21,315.68 396.80,315.66 397.40,315.63 398.00,315.61 398.60,315.58 399.20,315.55 399.79,315.53 400.39,315.50 400.99,315.48 401.59,315.45 402.18,315.43 402.78,315.40 403.38,315.38 403.98,315.35 404.58,315.33 405.17,315.31 405.77,315.28 406.37,315.26 406.97,315.24 407.57,315.21 408.16,315.19 408.76,315.17 409.36,315.14 409.96,315.12 410.56,315.10 411.15,315.07 411.75,315.05 412.35,315.03 412.95,315.01 413.55,314.99 414.14,314.96 414.74,314.94 415.34,314.92 415.94,314.90 416.53,314.88 417.13,314.86 417.73,314.84 418.33,314.82 418.93,314.79 419.52,314.77 420.12,314.75 420.72,314.73 421.32,314.71 421.92,314.69 422.51,314.67 423.11,314.65 423.71,314.63 424.31,314.61 424.91,314.59 425.50,314.57 426.10,314.55 426.70,314.54 427.30,314.52 427.89,314.50 428.49,314.48 429.09,314.46 429.69,314.44 430.29,314.42 430.88,314.40 431.48,314.38 432.08,314.37 432.68,314.35 433.28,314.33 433.87,314.31 434.47,314.29 435.07,314.28 435.67,314.26 436.27,314.24 436.86,314.22 437.46,314.20 438.06,314.19 438.66,314.17 439.25,314.15 439.85,314.13 440.45,314.12 441.05,314.10 441.65,314.08 442.24,314.07 442.84,314.05 443.44,314.03 444.04,314.02 444.64,314.00 445.23,313.98 445.83,313.97 446.43,313.95 447.03,313.93 447.63,313.92 448.22,313.90 448.82,313.88 449.42,313.87 450.02,313.85 450.61,313.84 451.21,313.82 451.81,313.80 452.41,313.79 453.01,313.77 453.60,313.76 454.20,313.74 454.80,313.73 455.40,313.71 456.00,313.70 456.59,313.68 457.19,313.67 457.79,313.65 458.39,313.64 458.99,313.62 459.58,313.61 460.18,313.59 460.78,313.58 461.38,313.56 461.97,313.55 462.57,313.53 463.17,313.52 463.77,313.50 464.37,313.49 464.96,313.47 465.56,313.46 466.16,313.44 466.76,313.43 467.36,313.42 467.95,313.40 468.55,313.39 469.15,313.37 469.75,313.36 470.35,313.35 470.94,313.33 471.54,313.32 472.14,313.30 472.74,313.29 473.34,313.28 473.93,313.26 474.53,313.25 475.13,313.24 475.73,313.22 476.32,313.21 476.92,313.20 477.52,313.18 478.12,313.17 478.72,313.16 479.31,313.14 479.91,313.13 480.51,313.12 481.11,313.10 481.71,313.09 482.30,313.08 482.90,313.06 483.50,313.05 484.10,313.04 484.70,313.03 485.29,313.01 485.89,313.00 486.49,312.99 487.09,312.98 487.68,312.96 488.28,312.95 488.88,312.94 489.48,312.93 490.08,312.91 490.67,312.90 491.27,312.89 491.87,312.88 492.47,312.86 493.07,312.85 493.66,312.84 494.26,312.83 494.86,312.81 495.46,312.80 496.06,312.79 496.65,312.78 497.25,312.77 497.85,312.75 498.45,312.74 499.04,312.73 499.64,312.72 500.24,312.71 500.84,312.70 501.44,312.68 502.03,312.67 502.63,312.66 503.23,312.65 503.83,312.64 504.43,312.63 505.02,312.62 505.62,312.60 506.22,312.59 506.82,312.58 507.42,312.57 508.01,312.56 508.61,312.55 509.21,312.54 509.81,312.52 510.40,312.51 511.00,312.50 511.60,312.49 512.20,312.48 512.80,312.47 513.39,312.46 513.99,312.45 514.59,312.44 515.19,312.43" fill="none" stroke="#4040ff" stroke-width="1.4" stroke-dasharray="4.5,4.7"/>
<polyline points="323.86,355.71 323.92,352.48 323.98,349.78 324.04,347.50 324.10,345.55 324.16,343.85 324.22,342.37 324.28,341.06 324.34,339.90 324.40,338.86 324.46,337.92 324.52,337.08 324.58,336.31 324.64,335.60 324.70,334.96 324.76,334.36 324.82,333.82 324.88,333.31 324.94,332.84 325.00,332.40 325.06,331.99 325.12,331.61 325.18,331.25 325.24,330.92 325.29,330.60 325.35,330.30 325.41,330.02 325.47,329.75 325.53,329.50 325.59,329.26 325.65,329.03 325.71,328.81 325.77,328.61 325.83,328.41 325.89,328.22 325.95,328.04 326.01,327.87 326.07,327.70 326.13,327.55 326.19,327.40 326.25,327.25 326.31,327.11 326.37,326.98 326.43,326.85 326.49,326.72 326.55,326.60 326.61,326.49 326.67,326.38 326.73,326.27 326.79,326.16 326.85,326.06 326.91,325.97 326.97,325.87 327.03,325.78 327.09,325.69 327.15,325.61 327.21,325.52 327.27,325.44 327.33,325.37 327.39,325.29 327.45,325.22 327.51,325.15 327.57,325.08 327.63,325.01 327.69,324.94 327.75,324.88 327.81,324.82 327.87,324.75 327.93,324.70 327.99,324.64 328.05,324.58 328.11,324.53 328.16,324.47 328.22,324.42 328.28,324.37 328.34,324.32 328.40,324.27 328.46,324.22 328.52,324.18 328.58,324.13 328.64,324.09 328.70,324.04 328.76,324.00 328.82,323.96 328.88,323.92 328.94,323.88 329.00,323.84 329.06,323.80 329.12,323.76 329.18,323.73 329.24,323.69 329.30,323.66 329.36,323.62 329.42,323.59 329.48,323.56 329.54,323.52 329.60,323.49 329.66,323.46 329.72,323.43 329.78,323.40 329.84,323.37 329.90,323.34 329.96,323.31 330.02,323.28 330.08,323.26 330.14,323.23 330.20,323.20 330.26,323.18 330.32,323.15 330.38,323.12 330.44,323.10 330.50,323.07 330.56,323.05 330.62,323.03 330.68,323.00 330.74,322.98 330.80,322.96 330.86,322.94 330.92,322.91 330.98,322.89 331.03,322.87 331.09,322.85 331.15,322.83 331.21,322.81 331.27,322.79 331.33,322.77 331.39,322.75 331.45,322.73 331.51,322.71 331.57,322.69 331.63,322.68 331.69,322.66 331.75,322.64 331.81,322.62 331.87,322.61 331.93,322.59 331.99,322.57 332.05,322.55 332.11,322.54 332.17,322.52 332.23,322.51 332.29,322.49 332.35,322.48 332.41,322.46 332.47,322.44 332.53,322.43 332.59,322.42 332.65,322.40 332.71,322.39 332.77,322.37 332.83,322.36 332.89,322.34 332.95,322.33 333.01,322.32 333.07,322.30 333.13,322.29 333.19,322.28 333.25,322.27 333.31,322.25 333.37,322.24 333.43,322.23 333.49,322.22 333.55,322.20 333.61,322.19 333.67,322.18 333.73,322.17 333.79,322.16 333.84,322.14 333.90,322.13 333.96,322.12 334.02,322.11 334.08,322.10 334.14,322.09 334.20,322.08 334.26,322.07 334.32,322.06 334.38,322.05 334.44,322.04 334.50,322.03 334.56,322.02 334.62,322.01 334.68,322.00 334.74,321.99 334.80,321.98 334.86,321.97 334.92,321.96 334.98,321.95 335.04,321.94 335.10,321.93 335.16,321.92 335.22,321.91 335.28,321.90 335.34,321.90 335.40,321.89 335.46,321.88 335.52,321.87 335.58,321.86 335.64,321.85 335.70,321.85 335.76,321.84 335.82,321.83 336.42,321.75 337.01,321.68 337.61,321.62 338.21,321.56 338.81,321.50 339.41,321.45 340.00,321.41 340.60,321.36 341.20,321.32 341.80,321.28 342.39,321.25 342.99,321.21 343.59,321.18 344.19,321.15 344.79,321.12 345.38,321.10 345.98,321.07 346.58,321.05 347.18,321.02 347.78,321.00 348.37,320.98 348.97,320.96 349.57,320.94 350.17,320.93 350.77,320.91 351.36,320.89 351.96,320.88 352.56,320.86 353.16,320.85 353.75,320.83 354.35,320.82 354.95,320.81 355.55,320.79 356.15,320.78 356.74,320.77 357.34,320.76 357.94,320.75 358.54,320.74 359.14,320.73 359.73,320.72 360.33,320.71 360.93,320.70 361.53,320.69 362.13,320.68 362.72,320.67 363.32,320.67 363.92,320.66 364.52,320.65 365.12,320.64 365.71,320.64 366.31,320.63 366.91,320.62 367.51,320.62 368.10,320.61 368.70,320.60 369.30,320.60 369.90,320.59 370.50,320.59 371.09,320.58 371.69,320.57 372.29,320.57 372.89,320.56 373.49,320.56 374.08,320.55 374.68,320.55 375.28,320.54 375.88,320.54 376.48,320.53 377.07,320.53 377.67,320.53 378.27,320.52 378.87,320.52 379.46,320.51 380.06,320.51 380.66,320.51 381.26,320.50 381.86,320.50 382.45,320.49 383.05,320.49 383.65,320.49 384.25,320.48 384.85,320.48 385.44,320.48 386.04,320.47 386.64,320.47 387.24,320.47 387.84,320.46 388.43,320.46 389.03,320.46 389.63,320.46 390.23,320.45 390.82,320.45 391.42,320.45 392.02,320.44 392.62,320.44 393.22,320.44 393.81,320.44 394.41,320.43 395.01,320.43 395.61,320.43 396.21,320.43 396.80,320.42 397.40,320.42 398.00,320.42 398.60,320.42 399.20,320.41 399.79,320.41 400.39,320.41 400.99,320.41 401.59,320.41 402.18,320.40 402.78,320.40 403.38,320.40 403.98,320.40 404.58,320.40 405.17,320.39 405.77,320.39 406.37,320.39 406.97,320.39 407.57,320.39 408.16,320.39 408.76,320.38 409.36,320.38 409.96,320.38 410.56,320.38 411.15,320.38 411.75,320.38 412.35,320.37 412.95,320.37 413.55,320.37 414.14,320.37 414.74,320.37 415.34,320.37 415.94,320.36 416.53,320.36 417.13,320.36 417.73,320.36 418.33,320.36 418.93,320.36 419.52,320.36 420.12,320.35 420.72,320.35 421.32,320.35 421.92,320.35 422.51,320.35 423.11,320.35 423.71,320.35 424.31,320.35 424.91,320.34 425.50,320.34 426.10,320.34 426.70,320.34 427.30,320.34 427.89,320.34 428.49,320.34 429.09,320.34 429.69,320.33 430.29,320.33 430.88,320.33 431.48,320.33 432.08,320.33 432.68,320.33 433.28,320.33 433.87,320.33 434.47,320.33 435.07,320.33 435.67,320.32 436.27,320.32 436.86,320.32 437.46,320.32 438.06,320.32 438.66,320.32 439.25,320.32 439.85,320.32 440.45,320.32 441.05,320.32 441.65,320.31 442.24,320.31 442.84,320.31 443.44,320.31 444.04,320.31 444.64,320.31 445.23,320.31 445.83,320.31 446.43,320.31 447.03,320.31 447.63,320.31 448.22,320.31 448.82,320.30 449.42,320.30 450.02,320.30 450.61,320.30 451.21,320.30 451.81,320.30 452.41,320.30 453.01,320.30 453.60,320.30 454.20,320.30 454.80,320.30 455.40,320.30 456.00,320.30 456.59,320.29 457.19,320.29 457.79,320.29 458.39,320.29 458.99,320.29 459.58,320.29 460.18,320.29 460.78,320.29 461.38,320.29 461.97,320.29 462.57,320.29 463.17,320.29 463.77,320.29 464.37,320.29 464.96,320.28 465.56,320.28 466.16,320.28 466.76,320.28 467.36,320.28 467.95,320.28 468.55,320.28 469.15,320.28 469.75,320.28 470.35,320.28 470.94,320.28 471.54,320.28 472.14,320.28 472.74,320.28 473.34,320.28 473.93,320.28 474.53,320.28 475.13,320.27 475.73,320.27 476.32,320.27 476.92,320.27 477.52,320.27 478.12,320.27 478.72,320.27 479.31,320.27 479.91,320.27 480.51,320.27 481.11,320.27 481.71,320.27 482.30,320.27 482.90,320.27 483.50,320.27 484.10,320.27 484.70,320.27 485.29,320.27 485.89,320.27 486.49,320.27 487.09,320.26 487.68,320.26 488.28,320.26 488.88,320.26 489.48,320.26 490.08,320.26 490.67,320.26 491.27,320.26 491.87,320.26 492.47,320.26 493.07,320.26 493.66,320.26 494.26,320.26 494.86,320.26 495.46,320.26 496.06,320.26 496.65,320.26 497.25,320.26 497.85,320.26 498.45,320.26 499.04,320.26 499.64,320.26 500.24,320.25 500.84,320.25 501.44,320.25 502.03,320.25 502.63,320.25 503.23,320.25 503.83,320.25 504.43,320.25 505.02,320.25 505.62,320.25 506.22,320.25 506.82,320.25 507.42,320.25 508.01,320.25 508.61,320.25 509.21,320.25 509.81,320.25 510.40,320.25 511.00,320.25 511.60,320.25 512.20,320.25 512.80,320.25 513.39,320.25 513.99,320.25 514.59,320.25 515.19,320.25" fill="none" stroke="#4040ff" stroke-width="1.4"/>
<circle cx="323.86" cy="355.71" r="2.1" fill="#1010e8" stroke="#1010e8" stroke-width="0.75"/>
<circle cx="325.06" cy="330.68" r="2.1" fill="#1010e8" stroke="#1010e8" stroke-width="0.75"/>
<circle cx="326.25" cy="329.03" r="2.1" fill="#1010e8" stroke="#1010e8" stroke-width="0.75"/>
<circle cx="329.84" cy="323.98" r="2.1" fill="#1010e8" stroke="#1010e8" stroke-width="0.75"/>
<circle cx="333.43" cy="320.35" r="2.1" fill="#1010e8" stroke="#1010e8" stroke-width="0.75"/>
<circle cx="351.36" cy="321.01" r="2.1" fill="#1010e8" stroke="#1010e8" stroke-width="0.75"/>
<circle cx="357.34" cy="320.68" r="2.1" fill="#1010e8" stroke="#1010e8" stroke-width="0.75"/>
<circle cx="381.26" cy="324.20" r="2.1" fill="#1010e8" stroke="#1010e8" stroke-width="0.75"/>
<circle cx="438.66" cy="326.17" r="2.1" fill="#1010e8" stroke="#1010e8" stroke-width="0.75"/>
<circle cx="467.36" cy="326.61" r="2.1" fill="#1010e8" stroke="#1010e8" stroke-width="0.75"/>
<circle cx="496.06" cy="328.26" r="2.1" fill="#1010e8" stroke="#1010e8" stroke-width="0.75"/>
<circle cx="435" cy="340.50" r="2.1" fill="#1010e8" stroke="#1010e8" stroke-width="0.75"/>
<text x="443.6" y="342.80" font-size="6.4" fill="#333" font-family='"Liberation Sans", sans-serif'>P3</text>
<line x1="428" y1="347.70" x2="441.6" y2="347.70" stroke="#4040ff" stroke-width="1.2"/>
<text x="443.6" y="350.00" font-size="6.4" fill="#333" font-family='"Liberation Sans", sans-serif'>P3 fitted by Langmuir</text>
<line x1="428" y1="355.10" x2="441.6" y2="355.10" stroke="#4040ff" stroke-width="1.2" stroke-dasharray="4.5,4.5"/>
<text x="443.6" y="357.40" font-size="6.4" fill="#333" font-family='"Liberation Sans", sans-serif'>P3 fitted by Freundlich</text>
<text x="323.86" y="373" text-anchor="middle" font-size="8" fill="#333" font-family='"Liberation Sans", sans-serif'>0</text>
<text x="347.78" y="373" text-anchor="middle" font-size="8" fill="#333" font-family='"Liberation Sans", sans-serif'>20</text>
<text x="371.69" y="373" text-anchor="middle" font-size="8" fill="#333" font-family='"Liberation Sans", sans-serif'>40</text>
<text x="395.61" y="373" text-anchor="middle" font-size="8" fill="#333" font-family='"Liberation Sans", sans-serif'>60</text>
<text x="419.52" y="373" text-anchor="middle" font-size="8" fill="#333" font-family='"Liberation Sans", sans-serif'>80</text>
<text x="443.44" y="373" text-anchor="middle" font-size="8" fill="#333" font-family='"Liberation Sans", sans-serif'>100</text>
<text x="467.36" y="373" text-anchor="middle" font-size="8" fill="#333" font-family='"Liberation Sans", sans-serif'>120</text>
<text x="491.27" y="373" text-anchor="middle" font-size="8" fill="#333" font-family='"Liberation Sans", sans-serif'>140</text>
<text x="515.19" y="373" text-anchor="middle" font-size="8" fill="#333" font-family='"Liberation Sans", sans-serif'>160</text>
<text x="539.10" y="373" text-anchor="middle" font-size="8" fill="#333" font-family='"Liberation Sans", sans-serif'>180</text>
<text x="424.2" y="386.3" text-anchor="middle" font-size="9.8" textLength="33.2" lengthAdjust="spacingAndGlyphs" fill="#222" font-family='"Liberation Sans", sans-serif'>Time (h)</text>
<text transform="translate(287.6,204.7) rotate(-90)" text-anchor="middle" font-size="10.25" fill="#222" font-family='"Liberation Sans", sans-serif'>PFOA absorption capacity of sludge (ug/g)</text>
<text transform="translate(286,58.2) scale(0.8,1)" text-anchor="middle" font-size="15.5" fill="#222" font-family='"Liberation Serif", serif'>II</text>
<line x1="324.1" y1="23.8" x2="324.1" y2="361.2" stroke="#84cceb" stroke-width="1.5"/>
<line x1="353.9" y1="23.8" x2="353.9" y2="361.2" stroke="#44b0d4" stroke-width="2"/>
<line x1="501.9" y1="22" x2="501.9" y2="361.2" stroke="#2a80a5" stroke-width="1.8"/>
<line x1="324" y1="33.3" x2="354" y2="33.3" stroke="#f7b500" stroke-width="1.4"/>
<line x1="354" y1="33.3" x2="502" y2="33.3" stroke="#f58300" stroke-width="1.4"/>
<path d="M323.8,9.3 H363.3 Q365.8,9.3 365.8,11.8 V21.3 Q365.8,23.8 363.3,23.8 H340 L335,31.5 L329,23.8 H323.8 Q321.3,23.8 321.3,21.3 V11.8 Q321.3,9.3 323.8,9.3 Z" fill="#fff" stroke="#5a7cc0" stroke-width="1"/>
<text x="344.4" y="20.2" text-anchor="middle" font-size="10.5" fill="#111" font-family='"Liberation Serif", serif'>Stage1</text>
<path d="M414.5,9.3 H454 Q456.3,9.3 456.3,11.8 V21.3 Q456.3,23.8 454,23.8 H431 L412.2,32.2 L419.2,23.8 H414.5 Q412,23.8 412,21.3 V11.8 Q412,9.3 414.5,9.3 Z" fill="#fff" stroke="#5a7cc0" stroke-width="1"/>
<text x="434" y="20.2" text-anchor="middle" font-size="10.5" fill="#111" font-family='"Liberation Serif", serif'>Stage2</text>
</svg></body></html>
